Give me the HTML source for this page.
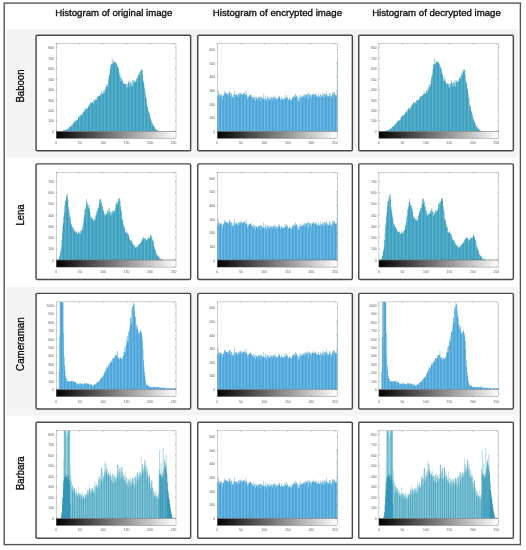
<!DOCTYPE html>
<html lang="en"><head><meta charset="utf-8"><title>Histograms of original, encrypted and decrypted images</title>
<style>html,body{margin:0;padding:0;background:#fff}svg{display:block}</style></head>
<body>
<svg width="526" height="550" viewBox="0 0 526 550">
<defs><linearGradient id="gr" x1="0" x2="1" y1="0" y2="0"><stop offset="0" stop-color="#000"/><stop offset="1" stop-color="#fff"/></linearGradient>
<pattern id="st" width="3.6" height="10" patternUnits="userSpaceOnUse"><rect x="0" y="0" width="1.1" height="10" fill="#b9e6dc" opacity="0.3"/><rect x="1.9" y="0" width="0.9" height="10" fill="#2f8fd0" opacity="0.22"/></pattern>
<pattern id="sb" width="3.3" height="10" patternUnits="userSpaceOnUse"><rect x="0" y="0" width="1.1" height="10" fill="#fff" opacity="0.2"/><rect x="1.8" y="0" width="0.8" height="10" fill="#1b86c8" opacity="0.25"/></pattern>
</defs>
<rect width="526" height="550" fill="#fff"/>
<rect x="6.2" y="29" width="512" height="128.7" fill="#f4f4f4"/>
<rect x="6.2" y="286.8" width="512" height="128.9" fill="#f4f4f4"/>
<rect x="4.2" y="3.1" width="516.2" height="541.5" fill="none" stroke="#555" stroke-width="1.4"/>
<text x="113.75" y="15.7" font-family="Liberation Sans, Arial, Helvetica, sans-serif" font-size="9.9" text-anchor="middle" fill="#0a0a0a" stroke="#0a0a0a" stroke-width="0.32" textLength="117.1" lengthAdjust="spacingAndGlyphs">Histogram of original image</text>
<text x="277.4" y="15.7" font-family="Liberation Sans, Arial, Helvetica, sans-serif" font-size="9.9" text-anchor="middle" fill="#0a0a0a" stroke="#0a0a0a" stroke-width="0.32" textLength="129.3" lengthAdjust="spacingAndGlyphs">Histogram of encrypted image</text>
<text x="436.5" y="15.7" font-family="Liberation Sans, Arial, Helvetica, sans-serif" font-size="9.9" text-anchor="middle" fill="#0a0a0a" stroke="#0a0a0a" stroke-width="0.32" textLength="128.7" lengthAdjust="spacingAndGlyphs">Histogram of decrypted image</text>
<text transform="translate(24.3 86.0) rotate(-90)" font-family="Liberation Sans, Arial, Helvetica, sans-serif" font-size="10.2" text-anchor="middle" fill="#0a0a0a" stroke="#0a0a0a" stroke-width="0.32" textLength="33.1" lengthAdjust="spacingAndGlyphs">Baboon</text>
<text transform="translate(24.3 215.1) rotate(-90)" font-family="Liberation Sans, Arial, Helvetica, sans-serif" font-size="10.2" text-anchor="middle" fill="#0a0a0a" stroke="#0a0a0a" stroke-width="0.32" textLength="21.0" lengthAdjust="spacingAndGlyphs">Lena</text>
<text transform="translate(24.3 344.1) rotate(-90)" font-family="Liberation Sans, Arial, Helvetica, sans-serif" font-size="10.2" text-anchor="middle" fill="#0a0a0a" stroke="#0a0a0a" stroke-width="0.32" textLength="53.6" lengthAdjust="spacingAndGlyphs">Cameraman</text>
<text transform="translate(24.3 473.2) rotate(-90)" font-family="Liberation Sans, Arial, Helvetica, sans-serif" font-size="10.2" text-anchor="middle" fill="#0a0a0a" stroke="#0a0a0a" stroke-width="0.32" textLength="33.6" lengthAdjust="spacingAndGlyphs">Barbara</text>
<rect x="36.05" y="35.15" width="154.6" height="115.6" rx="1.1" fill="#fff" stroke="#484848" stroke-width="1.45"/>
<path d="M56.2 131.3V131.3H56.43V131.3H56.9V131.3H57.37V131.3H57.84V131.3H58.31V131.3H58.78V131.3H59.25V131.3H59.72V131.3H60.19V131.25H60.66V131.2H61.13V131.14H61.6V131.09H62.07V131.04H62.54V130.99H63.01V130.28H63.48V130.47H63.95V130.84H64.42V130.13H64.89V129.91H65.36V130.18H65.83V129.84H66.3V130.32H66.77V128.45H67.24V128.9H67.71V129.35H68.18V128.75H68.65V128.01H69.12V126.82H69.59V127.05H70.06V126.53H70.53V126.38H71V126.52H71.47V124.67H71.94V124.94H72.41V124.36H72.88V123.48H73.35V123.2H73.82V122.38H74.29V121.92H74.76V120.71H75.23V121.34H75.7V119.88H76.17V120.85H76.64V120.36H77.11V120.08H77.58V119.17H78.05V116.97H78.52V117.03H78.99V117.31H79.46V115.46H79.93V115.15H80.39V115.76H80.86V115.21H81.33V114.52H81.8V114.29H82.27V113.39H82.74V112.01H83.21V112.33H83.68V110.76H84.15V109.84H84.62V111.87H85.09V110.04H85.56V107.63H86.03V108.55H86.5V108.58H86.97V108.76H87.44V108.2H87.91V106.26H88.38V106.89H88.85V104.71H89.32V104.72H89.79V104.08H90.26V102.81H90.73V102.29H91.2V103.32H91.67V102.73H92.14V102.15H92.61V101.96H93.08V103.92H93.55V100.17H94.02V100.27H94.49V99.81H94.96V100.89H95.43V98.89H95.9V100.12H96.37V99.54H96.84V96.97H97.31V96.47H97.78V96.85H98.25V96.16H98.72V95.44H99.19V95.51H99.66V96.12H100.13V94.96H100.6V93.94H101.07V91.34H101.54V93.5H102.01V93.67H102.48V93.28H102.95V94.3H103.42V90.98H103.89V90.44H104.35V92.68H104.82V88.68H105.29V89.45H105.76V86.23H106.23V86.99H106.7V84.06H107.17V86.69H107.64V84.2H108.11V80.69H108.58V77.42H109.05V75.28H109.52V74.13H109.99V68.94H110.46V65.44H110.93V64.25H111.4V63.98H111.87V58.51H112.34V63.62H112.81V63.46H113.28V60.62H113.75V61.87H114.22V62.47H114.69V61.09H115.16V62.14H115.63V62.96H116.1V62.67H116.57V64.05H117.04V65.97H117.51V66.79H117.98V68.28H118.45V68.27H118.92V72.6H119.39V75.54H119.86V73.96H120.33V78.19H120.8V81.16H121.27V76.97H121.74V80.65H122.21V79.59H122.68V81.38H123.15V83.02H123.62V84.1H124.09V82.9H124.56V83.83H125.03V84.36H125.5V83.96H125.97V87.16H126.44V83.75H126.91V87.48H127.38V84.16H127.85V83.04H128.31V81.69H128.78V80.41H129.25V86.84H129.72V83.4H130.19V82.19H130.66V82.26H131.13V86.01H131.6V83.38H132.07V79.96H132.54V86.46H133.01V81.7H133.48V80.37H133.95V82.3H134.42V79.95H134.89V82.54H135.36V81.25H135.83V81.22H136.3V78.14H136.77V78.32H137.24V75.59H137.71V78.71H138.18V75.85H138.65V73.09H139.12V72.55H139.59V75.36H140.06V70.64H140.53V71.31H141V69.02H141.47V70.13H141.94V69.43H142.41V74.36H142.88V80.22H143.35V82.19H143.82V83.48H144.29V88.04H144.76V89.84H145.23V93.5H145.7V97.8H146.17V98.36H146.64V104.4H147.11V106.99H147.58V105.94H148.05V111.18H148.52V111.3H148.99V112.86H149.46V114.57H149.93V116.75H150.4V118.86H150.87V120.33H151.34V121.42H151.81V122.45H152.27V123.34H152.74V124.98H153.21V125.79H153.68V126.12H154.15V126.7H154.62V128H155.09V129.07H155.56V129H156.03V129.59H156.5V129.61H156.97V130.23H157.44V130.74H157.91V130.59H158.38V131.3H158.85V131.09H159.32V131.3H159.79V131.3H160.26V131.3H160.73V131.3H161.2V131.3H161.67V131.3H162.14V131.3H162.61V131.3H163.08V131.3H163.55V131.3H164.02V131.3H164.49V131.3H164.96V131.3H165.43V131.3H165.9V131.3H166.37V131.3H166.84V131.3H167.31V131.3H167.78V131.3H168.25V131.3H168.72V131.3H169.19V131.3H169.66V131.3H170.13V131.3H170.6V131.3H171.07V131.3H171.54V131.3H172.01V131.3H172.48V131.3H172.95V131.3H173.42V131.3H173.89V131.3H174.36V131.3H174.83V131.3H175.3V131.3H175.77V131.3H176.23V131.3Z" fill="#3ea2c1"/>
<path d="M56.2 131.3V131.3H56.43V131.3H56.9V131.3H57.37V131.3H57.84V131.3H58.31V131.3H58.78V131.3H59.25V131.3H59.72V131.3H60.19V131.25H60.66V131.2H61.13V131.14H61.6V131.09H62.07V131.04H62.54V130.99H63.01V130.28H63.48V130.47H63.95V130.84H64.42V130.13H64.89V129.91H65.36V130.18H65.83V129.84H66.3V130.32H66.77V128.45H67.24V128.9H67.71V129.35H68.18V128.75H68.65V128.01H69.12V126.82H69.59V127.05H70.06V126.53H70.53V126.38H71V126.52H71.47V124.67H71.94V124.94H72.41V124.36H72.88V123.48H73.35V123.2H73.82V122.38H74.29V121.92H74.76V120.71H75.23V121.34H75.7V119.88H76.17V120.85H76.64V120.36H77.11V120.08H77.58V119.17H78.05V116.97H78.52V117.03H78.99V117.31H79.46V115.46H79.93V115.15H80.39V115.76H80.86V115.21H81.33V114.52H81.8V114.29H82.27V113.39H82.74V112.01H83.21V112.33H83.68V110.76H84.15V109.84H84.62V111.87H85.09V110.04H85.56V107.63H86.03V108.55H86.5V108.58H86.97V108.76H87.44V108.2H87.91V106.26H88.38V106.89H88.85V104.71H89.32V104.72H89.79V104.08H90.26V102.81H90.73V102.29H91.2V103.32H91.67V102.73H92.14V102.15H92.61V101.96H93.08V103.92H93.55V100.17H94.02V100.27H94.49V99.81H94.96V100.89H95.43V98.89H95.9V100.12H96.37V99.54H96.84V96.97H97.31V96.47H97.78V96.85H98.25V96.16H98.72V95.44H99.19V95.51H99.66V96.12H100.13V94.96H100.6V93.94H101.07V91.34H101.54V93.5H102.01V93.67H102.48V93.28H102.95V94.3H103.42V90.98H103.89V90.44H104.35V92.68H104.82V88.68H105.29V89.45H105.76V86.23H106.23V86.99H106.7V84.06H107.17V86.69H107.64V84.2H108.11V80.69H108.58V77.42H109.05V75.28H109.52V74.13H109.99V68.94H110.46V65.44H110.93V64.25H111.4V63.98H111.87V58.51H112.34V63.62H112.81V63.46H113.28V60.62H113.75V61.87H114.22V62.47H114.69V61.09H115.16V62.14H115.63V62.96H116.1V62.67H116.57V64.05H117.04V65.97H117.51V66.79H117.98V68.28H118.45V68.27H118.92V72.6H119.39V75.54H119.86V73.96H120.33V78.19H120.8V81.16H121.27V76.97H121.74V80.65H122.21V79.59H122.68V81.38H123.15V83.02H123.62V84.1H124.09V82.9H124.56V83.83H125.03V84.36H125.5V83.96H125.97V87.16H126.44V83.75H126.91V87.48H127.38V84.16H127.85V83.04H128.31V81.69H128.78V80.41H129.25V86.84H129.72V83.4H130.19V82.19H130.66V82.26H131.13V86.01H131.6V83.38H132.07V79.96H132.54V86.46H133.01V81.7H133.48V80.37H133.95V82.3H134.42V79.95H134.89V82.54H135.36V81.25H135.83V81.22H136.3V78.14H136.77V78.32H137.24V75.59H137.71V78.71H138.18V75.85H138.65V73.09H139.12V72.55H139.59V75.36H140.06V70.64H140.53V71.31H141V69.02H141.47V70.13H141.94V69.43H142.41V74.36H142.88V80.22H143.35V82.19H143.82V83.48H144.29V88.04H144.76V89.84H145.23V93.5H145.7V97.8H146.17V98.36H146.64V104.4H147.11V106.99H147.58V105.94H148.05V111.18H148.52V111.3H148.99V112.86H149.46V114.57H149.93V116.75H150.4V118.86H150.87V120.33H151.34V121.42H151.81V122.45H152.27V123.34H152.74V124.98H153.21V125.79H153.68V126.12H154.15V126.7H154.62V128H155.09V129.07H155.56V129H156.03V129.59H156.5V129.61H156.97V130.23H157.44V130.74H157.91V130.59H158.38V131.3H158.85V131.09H159.32V131.3H159.79V131.3H160.26V131.3H160.73V131.3H161.2V131.3H161.67V131.3H162.14V131.3H162.61V131.3H163.08V131.3H163.55V131.3H164.02V131.3H164.49V131.3H164.96V131.3H165.43V131.3H165.9V131.3H166.37V131.3H166.84V131.3H167.31V131.3H167.78V131.3H168.25V131.3H168.72V131.3H169.19V131.3H169.66V131.3H170.13V131.3H170.6V131.3H171.07V131.3H171.54V131.3H172.01V131.3H172.48V131.3H172.95V131.3H173.42V131.3H173.89V131.3H174.36V131.3H174.83V131.3H175.3V131.3H175.77V131.3H176.23V131.3Z" fill="url(#st)"/>
<rect x="56.2" y="131.3" width="119.8" height="7.1" fill="url(#gr)" stroke="#666" stroke-width="0.35"/>
<rect x="56.2" y="43.7" width="119.8" height="87.6" fill="none" stroke="#808080" stroke-width="0.38"/>
<text x="54" y="132.85" font-family="Liberation Sans, Arial, Helvetica, sans-serif" font-size="3.4" text-anchor="end" fill="#5a5a5a">0</text>
<text x="54" y="122.41" font-family="Liberation Sans, Arial, Helvetica, sans-serif" font-size="3.4" text-anchor="end" fill="#5a5a5a">100</text>
<text x="54" y="111.98" font-family="Liberation Sans, Arial, Helvetica, sans-serif" font-size="3.4" text-anchor="end" fill="#5a5a5a">200</text>
<text x="54" y="101.54" font-family="Liberation Sans, Arial, Helvetica, sans-serif" font-size="3.4" text-anchor="end" fill="#5a5a5a">300</text>
<text x="54" y="91.1" font-family="Liberation Sans, Arial, Helvetica, sans-serif" font-size="3.4" text-anchor="end" fill="#5a5a5a">400</text>
<text x="54" y="80.66" font-family="Liberation Sans, Arial, Helvetica, sans-serif" font-size="3.4" text-anchor="end" fill="#5a5a5a">500</text>
<text x="54" y="70.23" font-family="Liberation Sans, Arial, Helvetica, sans-serif" font-size="3.4" text-anchor="end" fill="#5a5a5a">600</text>
<text x="54" y="59.79" font-family="Liberation Sans, Arial, Helvetica, sans-serif" font-size="3.4" text-anchor="end" fill="#5a5a5a">700</text>
<text x="54" y="49.35" font-family="Liberation Sans, Arial, Helvetica, sans-serif" font-size="3.4" text-anchor="end" fill="#5a5a5a">800</text>
<text x="56.2" y="144.3" font-family="Liberation Sans, Arial, Helvetica, sans-serif" font-size="3.4" text-anchor="middle" fill="#5a5a5a">0</text>
<text x="79.69" y="144.3" font-family="Liberation Sans, Arial, Helvetica, sans-serif" font-size="3.4" text-anchor="middle" fill="#5a5a5a">50</text>
<text x="103.18" y="144.3" font-family="Liberation Sans, Arial, Helvetica, sans-serif" font-size="3.4" text-anchor="middle" fill="#5a5a5a">100</text>
<text x="126.67" y="144.3" font-family="Liberation Sans, Arial, Helvetica, sans-serif" font-size="3.4" text-anchor="middle" fill="#5a5a5a">150</text>
<text x="150.16" y="144.3" font-family="Liberation Sans, Arial, Helvetica, sans-serif" font-size="3.4" text-anchor="middle" fill="#5a5a5a">200</text>
<text x="173.65" y="144.3" font-family="Liberation Sans, Arial, Helvetica, sans-serif" font-size="3.4" text-anchor="middle" fill="#5a5a5a">250</text>
<path d="M56.2 131.3h1.2M176 131.3h-1.2M56.2 120.86h1.2M176 120.86h-1.2M56.2 110.43h1.2M176 110.43h-1.2M56.2 99.99h1.2M176 99.99h-1.2M56.2 89.55h1.2M176 89.55h-1.2M56.2 79.11h1.2M176 79.11h-1.2M56.2 68.68h1.2M176 68.68h-1.2M56.2 58.24h1.2M176 58.24h-1.2M56.2 47.8h1.2M176 47.8h-1.2M56.2 43.7v1.2M56.2 131.3v-1.2M56.2 138.4v-1.2M79.69 43.7v1.2M79.69 131.3v-1.2M79.69 138.4v-1.2M103.18 43.7v1.2M103.18 131.3v-1.2M103.18 138.4v-1.2M126.67 43.7v1.2M126.67 131.3v-1.2M126.67 138.4v-1.2M150.16 43.7v1.2M150.16 131.3v-1.2M150.16 138.4v-1.2M173.65 43.7v1.2M173.65 131.3v-1.2M173.65 138.4v-1.2" stroke="#666" stroke-width="0.35" fill="none"/>
<rect x="197.75" y="35.15" width="154.6" height="115.6" rx="1.1" fill="#fff" stroke="#484848" stroke-width="1.45"/>
<path d="M217.3 131.3V94.72H217.53V96.02H218V90.87H218.47V94.81H218.94V93.44H219.41V97.18H219.88V95.12H220.35V94.69H220.82V94.34H221.29V94.93H221.76V96.03H222.23V99.67H222.7V95.72H223.17V95.8H223.64V94.6H224.11V93.17H224.58V91.03H225.05V93.03H225.52V92.52H225.99V93.64H226.46V93.68H226.93V93.5H227.4V94.49H227.87V95.05H228.34V93.86H228.81V91.46H229.28V92.82H229.75V91.22H230.22V96.76H230.69V93.88H231.16V93.61H231.63V93.54H232.1V96.87H232.57V97.12H233.04V97.78H233.51V94.77H233.98V90.01H234.45V94.08H234.92V96.22H235.39V93.92H235.86V94.92H236.33V94.03H236.8V95.22H237.27V97H237.74V94.93H238.21V93.25H238.68V94.3H239.15V93.09H239.62V96.3H240.09V92.63H240.56V94.18H241.03V93.94H241.49V92.63H241.96V94.64H242.43V94.61H242.9V93.53H243.37V93.33H243.84V93.48H244.31V92.59H244.78V93.79H245.25V95.39H245.72V90.45H246.19V95.37H246.66V94.21H247.13V96.89H247.6V99.2H248.07V97.13H248.54V95.75H249.01V95.29H249.48V95.98H249.95V95.07H250.42V94.33H250.89V95H251.36V96.87H251.83V96.74H252.3V97.3H252.77V98.6H253.24V95.4H253.71V99.46H254.18V97.48H254.65V96.92H255.12V100.68H255.59V96.54H256.06V98.09H256.53V97.58H257V98.28H257.47V99.84H257.94V97.41H258.41V97.55H258.88V96.77H259.35V97.46H259.82V100.99H260.29V96.32H260.76V97.13H261.23V97.41H261.7V97.59H262.17V99.15H262.64V97.97H263.11V99.08H263.58V93.58H264.05V98.46H264.52V99.78H264.99V99.06H265.45V95.52H265.92V98.66H266.39V101.53H266.86V96.19H267.33V97.42H267.8V98.48H268.27V97.07H268.74V99.48H269.21V99.91H269.68V96.43H270.15V98.85H270.62V97.29H271.09V98.37H271.56V97.19H272.03V97.56H272.5V100.6H272.97V96.7H273.44V98.27H273.91V96.76H274.38V97.77H274.85V95.69H275.32V98.43H275.79V100.53H276.26V98.74H276.73V97.27H277.2V98.49H277.67V98.76H278.14V95.42H278.61V98.62H279.08V95.95H279.55V97.36H280.02V99.91H280.49V98.85H280.96V97.64H281.43V97.28H281.9V98.81H282.37V99.8H282.84V99.15H283.31V98.68H283.78V99.28H284.25V98.45H284.72V95.07H285.19V97.05H285.66V98.73H286.13V97.84H286.6V95.22H287.07V96.69H287.54V97.87H288.01V99.41H288.48V100.21H288.95V98.1H289.41V98.33H289.88V99.92H290.35V100.03H290.82V97.77H291.29V100.51H291.76V99.71H292.23V97.76H292.7V97.05H293.17V96.96H293.64V96.13H294.11V95.04H294.58V96.52H295.05V97.6H295.52V93.84H295.99V95.32H296.46V96.25H296.93V98.88H297.4V96.63H297.87V101.15H298.34V97.87H298.81V101.26H299.28V98.25H299.75V95.54H300.22V97.7H300.69V95H301.16V97.22H301.63V96.56H302.1V97.38H302.57V96.12H303.04V96.54H303.51V94.78H303.98V94.08H304.45V95.83H304.92V97.91H305.39V94.52H305.86V94.19H306.33V94.83H306.8V95.42H307.27V94.32H307.74V93.13H308.21V99.53H308.68V92.83H309.15V94.29H309.62V94.83H310.09V96.15H310.56V95H311.03V94.42H311.5V97.43H311.97V94.28H312.44V95.21H312.91V92.48H313.37V93.96H313.84V95.1H314.31V95.1H314.78V93.68H315.25V94.83H315.72V93.57H316.19V95.74H316.66V96.67H317.13V95.23H317.6V96.92H318.07V96.08H318.54V93.63H319.01V97.24H319.48V96.35H319.95V93.42H320.42V95.23H320.89V94.94H321.36V97.07H321.83V96.81H322.3V95.01H322.77V92.59H323.24V94.5H323.71V97.88H324.18V93.97H324.65V93.15H325.12V93.88H325.59V96.59H326.06V94.83H326.53V91.02H327V96.1H327.47V94.48H327.94V96.02H328.41V96.98H328.88V95.45H329.35V93.15H329.82V92.99H330.29V96.12H330.76V95.61H331.23V96.09H331.7V98.21H332.17V93.85H332.64V91.98H333.11V92.05H333.58V95.17H334.05V92.38H334.52V92.97H334.99V95.19H335.46V94.63H335.93V95.73H336.4V94.54H336.87V91.21H337.33V131.3Z" fill="#51a9dc"/>
<path d="M217.3 131.3V94.72H217.53V96.02H218V90.87H218.47V94.81H218.94V93.44H219.41V97.18H219.88V95.12H220.35V94.69H220.82V94.34H221.29V94.93H221.76V96.03H222.23V99.67H222.7V95.72H223.17V95.8H223.64V94.6H224.11V93.17H224.58V91.03H225.05V93.03H225.52V92.52H225.99V93.64H226.46V93.68H226.93V93.5H227.4V94.49H227.87V95.05H228.34V93.86H228.81V91.46H229.28V92.82H229.75V91.22H230.22V96.76H230.69V93.88H231.16V93.61H231.63V93.54H232.1V96.87H232.57V97.12H233.04V97.78H233.51V94.77H233.98V90.01H234.45V94.08H234.92V96.22H235.39V93.92H235.86V94.92H236.33V94.03H236.8V95.22H237.27V97H237.74V94.93H238.21V93.25H238.68V94.3H239.15V93.09H239.62V96.3H240.09V92.63H240.56V94.18H241.03V93.94H241.49V92.63H241.96V94.64H242.43V94.61H242.9V93.53H243.37V93.33H243.84V93.48H244.31V92.59H244.78V93.79H245.25V95.39H245.72V90.45H246.19V95.37H246.66V94.21H247.13V96.89H247.6V99.2H248.07V97.13H248.54V95.75H249.01V95.29H249.48V95.98H249.95V95.07H250.42V94.33H250.89V95H251.36V96.87H251.83V96.74H252.3V97.3H252.77V98.6H253.24V95.4H253.71V99.46H254.18V97.48H254.65V96.92H255.12V100.68H255.59V96.54H256.06V98.09H256.53V97.58H257V98.28H257.47V99.84H257.94V97.41H258.41V97.55H258.88V96.77H259.35V97.46H259.82V100.99H260.29V96.32H260.76V97.13H261.23V97.41H261.7V97.59H262.17V99.15H262.64V97.97H263.11V99.08H263.58V93.58H264.05V98.46H264.52V99.78H264.99V99.06H265.45V95.52H265.92V98.66H266.39V101.53H266.86V96.19H267.33V97.42H267.8V98.48H268.27V97.07H268.74V99.48H269.21V99.91H269.68V96.43H270.15V98.85H270.62V97.29H271.09V98.37H271.56V97.19H272.03V97.56H272.5V100.6H272.97V96.7H273.44V98.27H273.91V96.76H274.38V97.77H274.85V95.69H275.32V98.43H275.79V100.53H276.26V98.74H276.73V97.27H277.2V98.49H277.67V98.76H278.14V95.42H278.61V98.62H279.08V95.95H279.55V97.36H280.02V99.91H280.49V98.85H280.96V97.64H281.43V97.28H281.9V98.81H282.37V99.8H282.84V99.15H283.31V98.68H283.78V99.28H284.25V98.45H284.72V95.07H285.19V97.05H285.66V98.73H286.13V97.84H286.6V95.22H287.07V96.69H287.54V97.87H288.01V99.41H288.48V100.21H288.95V98.1H289.41V98.33H289.88V99.92H290.35V100.03H290.82V97.77H291.29V100.51H291.76V99.71H292.23V97.76H292.7V97.05H293.17V96.96H293.64V96.13H294.11V95.04H294.58V96.52H295.05V97.6H295.52V93.84H295.99V95.32H296.46V96.25H296.93V98.88H297.4V96.63H297.87V101.15H298.34V97.87H298.81V101.26H299.28V98.25H299.75V95.54H300.22V97.7H300.69V95H301.16V97.22H301.63V96.56H302.1V97.38H302.57V96.12H303.04V96.54H303.51V94.78H303.98V94.08H304.45V95.83H304.92V97.91H305.39V94.52H305.86V94.19H306.33V94.83H306.8V95.42H307.27V94.32H307.74V93.13H308.21V99.53H308.68V92.83H309.15V94.29H309.62V94.83H310.09V96.15H310.56V95H311.03V94.42H311.5V97.43H311.97V94.28H312.44V95.21H312.91V92.48H313.37V93.96H313.84V95.1H314.31V95.1H314.78V93.68H315.25V94.83H315.72V93.57H316.19V95.74H316.66V96.67H317.13V95.23H317.6V96.92H318.07V96.08H318.54V93.63H319.01V97.24H319.48V96.35H319.95V93.42H320.42V95.23H320.89V94.94H321.36V97.07H321.83V96.81H322.3V95.01H322.77V92.59H323.24V94.5H323.71V97.88H324.18V93.97H324.65V93.15H325.12V93.88H325.59V96.59H326.06V94.83H326.53V91.02H327V96.1H327.47V94.48H327.94V96.02H328.41V96.98H328.88V95.45H329.35V93.15H329.82V92.99H330.29V96.12H330.76V95.61H331.23V96.09H331.7V98.21H332.17V93.85H332.64V91.98H333.11V92.05H333.58V95.17H334.05V92.38H334.52V92.97H334.99V95.19H335.46V94.63H335.93V95.73H336.4V94.54H336.87V91.21H337.33V131.3Z" fill="url(#sb)"/>
<rect x="336.75" y="62.45" width="0.7" height="68.85" fill="#a9d4ef"/>
<rect x="217.3" y="131.3" width="120.1" height="7.1" fill="url(#gr)" stroke="#666" stroke-width="0.35"/>
<rect x="217.3" y="43.7" width="120.1" height="87.6" fill="none" stroke="#808080" stroke-width="0.38"/>
<text x="215.1" y="132.85" font-family="Liberation Sans, Arial, Helvetica, sans-serif" font-size="3.4" text-anchor="end" fill="#5a5a5a">0</text>
<text x="215.1" y="119.22" font-family="Liberation Sans, Arial, Helvetica, sans-serif" font-size="3.4" text-anchor="end" fill="#5a5a5a">100</text>
<text x="215.1" y="105.58" font-family="Liberation Sans, Arial, Helvetica, sans-serif" font-size="3.4" text-anchor="end" fill="#5a5a5a">200</text>
<text x="215.1" y="91.95" font-family="Liberation Sans, Arial, Helvetica, sans-serif" font-size="3.4" text-anchor="end" fill="#5a5a5a">300</text>
<text x="215.1" y="78.32" font-family="Liberation Sans, Arial, Helvetica, sans-serif" font-size="3.4" text-anchor="end" fill="#5a5a5a">400</text>
<text x="215.1" y="64.68" font-family="Liberation Sans, Arial, Helvetica, sans-serif" font-size="3.4" text-anchor="end" fill="#5a5a5a">500</text>
<text x="215.1" y="51.05" font-family="Liberation Sans, Arial, Helvetica, sans-serif" font-size="3.4" text-anchor="end" fill="#5a5a5a">600</text>
<text x="217.3" y="144.3" font-family="Liberation Sans, Arial, Helvetica, sans-serif" font-size="3.4" text-anchor="middle" fill="#5a5a5a">0</text>
<text x="240.79" y="144.3" font-family="Liberation Sans, Arial, Helvetica, sans-serif" font-size="3.4" text-anchor="middle" fill="#5a5a5a">50</text>
<text x="264.28" y="144.3" font-family="Liberation Sans, Arial, Helvetica, sans-serif" font-size="3.4" text-anchor="middle" fill="#5a5a5a">100</text>
<text x="287.77" y="144.3" font-family="Liberation Sans, Arial, Helvetica, sans-serif" font-size="3.4" text-anchor="middle" fill="#5a5a5a">150</text>
<text x="311.26" y="144.3" font-family="Liberation Sans, Arial, Helvetica, sans-serif" font-size="3.4" text-anchor="middle" fill="#5a5a5a">200</text>
<text x="334.75" y="144.3" font-family="Liberation Sans, Arial, Helvetica, sans-serif" font-size="3.4" text-anchor="middle" fill="#5a5a5a">250</text>
<path d="M217.3 131.3h1.2M337.4 131.3h-1.2M217.3 117.67h1.2M337.4 117.67h-1.2M217.3 104.03h1.2M337.4 104.03h-1.2M217.3 90.4h1.2M337.4 90.4h-1.2M217.3 76.77h1.2M337.4 76.77h-1.2M217.3 63.13h1.2M337.4 63.13h-1.2M217.3 49.5h1.2M337.4 49.5h-1.2M217.3 43.7v1.2M217.3 131.3v-1.2M217.3 138.4v-1.2M240.79 43.7v1.2M240.79 131.3v-1.2M240.79 138.4v-1.2M264.28 43.7v1.2M264.28 131.3v-1.2M264.28 138.4v-1.2M287.77 43.7v1.2M287.77 131.3v-1.2M287.77 138.4v-1.2M311.26 43.7v1.2M311.26 131.3v-1.2M311.26 138.4v-1.2M334.75 43.7v1.2M334.75 131.3v-1.2M334.75 138.4v-1.2" stroke="#666" stroke-width="0.35" fill="none"/>
<rect x="358.75" y="35.15" width="154.6" height="115.6" rx="1.1" fill="#fff" stroke="#484848" stroke-width="1.45"/>
<path d="M378.9 131.3V131.3H379.13V131.3H379.6V131.3H380.07V131.3H380.54V131.3H381.01V131.3H381.48V131.3H381.95V131.3H382.42V131.3H382.89V131.25H383.36V131.2H383.83V131.14H384.3V131.09H384.77V131.04H385.24V130.99H385.71V130.28H386.18V130.47H386.65V130.84H387.12V130.13H387.59V129.91H388.06V130.18H388.53V129.84H389V130.32H389.47V128.45H389.94V128.9H390.41V129.35H390.88V128.75H391.35V128.01H391.82V126.82H392.29V127.05H392.76V126.53H393.23V126.38H393.7V126.52H394.17V124.67H394.64V124.94H395.11V124.36H395.58V123.48H396.05V123.2H396.52V122.38H396.99V121.92H397.46V120.71H397.93V121.34H398.4V119.88H398.87V120.85H399.34V120.36H399.81V120.08H400.28V119.17H400.75V116.97H401.22V117.03H401.69V117.31H402.16V115.46H402.63V115.15H403.09V115.76H403.56V115.21H404.03V114.52H404.5V114.29H404.97V113.39H405.44V112.01H405.91V112.33H406.38V110.76H406.85V109.84H407.32V111.87H407.79V110.04H408.26V107.63H408.73V108.55H409.2V108.58H409.67V108.76H410.14V108.2H410.61V106.26H411.08V106.89H411.55V104.71H412.02V104.72H412.49V104.08H412.96V102.81H413.43V102.29H413.9V103.32H414.37V102.73H414.84V102.15H415.31V101.96H415.78V103.92H416.25V100.17H416.72V100.27H417.19V99.81H417.66V100.89H418.13V98.89H418.6V100.12H419.07V99.54H419.54V96.97H420.01V96.47H420.48V96.85H420.95V96.16H421.42V95.44H421.89V95.51H422.36V96.12H422.83V94.96H423.3V93.94H423.77V91.34H424.24V93.5H424.71V93.67H425.18V93.28H425.65V94.3H426.12V90.98H426.59V90.44H427.05V92.68H427.52V88.68H427.99V89.45H428.46V86.23H428.93V86.99H429.4V84.06H429.87V86.69H430.34V84.2H430.81V80.69H431.28V77.42H431.75V75.28H432.22V74.13H432.69V68.94H433.16V65.44H433.63V64.25H434.1V63.98H434.57V58.51H435.04V63.62H435.51V63.46H435.98V60.62H436.45V61.87H436.92V62.47H437.39V61.09H437.86V62.14H438.33V62.96H438.8V62.67H439.27V64.05H439.74V65.97H440.21V66.79H440.68V68.28H441.15V68.27H441.62V72.6H442.09V75.54H442.56V73.96H443.03V78.19H443.5V81.16H443.97V76.97H444.44V80.65H444.91V79.59H445.38V81.38H445.85V83.02H446.32V84.1H446.79V82.9H447.26V83.83H447.73V84.36H448.2V83.96H448.67V87.16H449.14V83.75H449.61V87.48H450.08V84.16H450.55V83.04H451.01V81.69H451.48V80.41H451.95V86.84H452.42V83.4H452.89V82.19H453.36V82.26H453.83V86.01H454.3V83.38H454.77V79.96H455.24V86.46H455.71V81.7H456.18V80.37H456.65V82.3H457.12V79.95H457.59V82.54H458.06V81.25H458.53V81.22H459V78.14H459.47V78.32H459.94V75.59H460.41V78.71H460.88V75.85H461.35V73.09H461.82V72.55H462.29V75.36H462.76V70.64H463.23V71.31H463.7V69.02H464.17V70.13H464.64V69.43H465.11V74.36H465.58V80.22H466.05V82.19H466.52V83.48H466.99V88.04H467.46V89.84H467.93V93.5H468.4V97.8H468.87V98.36H469.34V104.4H469.81V106.99H470.28V105.94H470.75V111.18H471.22V111.3H471.69V112.86H472.16V114.57H472.63V116.75H473.1V118.86H473.57V120.33H474.04V121.42H474.51V122.45H474.97V123.34H475.44V124.98H475.91V125.79H476.38V126.12H476.85V126.7H477.32V128H477.79V129.07H478.26V129H478.73V129.59H479.2V129.61H479.67V130.23H480.14V130.74H480.61V130.59H481.08V131.3H481.55V131.09H482.02V131.3H482.49V131.3H482.96V131.3H483.43V131.3H483.9V131.3H484.37V131.3H484.84V131.3H485.31V131.3H485.78V131.3H486.25V131.3H486.72V131.3H487.19V131.3H487.66V131.3H488.13V131.3H488.6V131.3H489.07V131.3H489.54V131.3H490.01V131.3H490.48V131.3H490.95V131.3H491.42V131.3H491.89V131.3H492.36V131.3H492.83V131.3H493.3V131.3H493.77V131.3H494.24V131.3H494.71V131.3H495.18V131.3H495.65V131.3H496.12V131.3H496.59V131.3H497.06V131.3H497.53V131.3H498V131.3H498.47V131.3H498.93V131.3Z" fill="#3ea2c1"/>
<path d="M378.9 131.3V131.3H379.13V131.3H379.6V131.3H380.07V131.3H380.54V131.3H381.01V131.3H381.48V131.3H381.95V131.3H382.42V131.3H382.89V131.25H383.36V131.2H383.83V131.14H384.3V131.09H384.77V131.04H385.24V130.99H385.71V130.28H386.18V130.47H386.65V130.84H387.12V130.13H387.59V129.91H388.06V130.18H388.53V129.84H389V130.32H389.47V128.45H389.94V128.9H390.41V129.35H390.88V128.75H391.35V128.01H391.82V126.82H392.29V127.05H392.76V126.53H393.23V126.38H393.7V126.52H394.17V124.67H394.64V124.94H395.11V124.36H395.58V123.48H396.05V123.2H396.52V122.38H396.99V121.92H397.46V120.71H397.93V121.34H398.4V119.88H398.87V120.85H399.34V120.36H399.81V120.08H400.28V119.17H400.75V116.97H401.22V117.03H401.69V117.31H402.16V115.46H402.63V115.15H403.09V115.76H403.56V115.21H404.03V114.52H404.5V114.29H404.97V113.39H405.44V112.01H405.91V112.33H406.38V110.76H406.85V109.84H407.32V111.87H407.79V110.04H408.26V107.63H408.73V108.55H409.2V108.58H409.67V108.76H410.14V108.2H410.61V106.26H411.08V106.89H411.55V104.71H412.02V104.72H412.49V104.08H412.96V102.81H413.43V102.29H413.9V103.32H414.37V102.73H414.84V102.15H415.31V101.96H415.78V103.92H416.25V100.17H416.72V100.27H417.19V99.81H417.66V100.89H418.13V98.89H418.6V100.12H419.07V99.54H419.54V96.97H420.01V96.47H420.48V96.85H420.95V96.16H421.42V95.44H421.89V95.51H422.36V96.12H422.83V94.96H423.3V93.94H423.77V91.34H424.24V93.5H424.71V93.67H425.18V93.28H425.65V94.3H426.12V90.98H426.59V90.44H427.05V92.68H427.52V88.68H427.99V89.45H428.46V86.23H428.93V86.99H429.4V84.06H429.87V86.69H430.34V84.2H430.81V80.69H431.28V77.42H431.75V75.28H432.22V74.13H432.69V68.94H433.16V65.44H433.63V64.25H434.1V63.98H434.57V58.51H435.04V63.62H435.51V63.46H435.98V60.62H436.45V61.87H436.92V62.47H437.39V61.09H437.86V62.14H438.33V62.96H438.8V62.67H439.27V64.05H439.74V65.97H440.21V66.79H440.68V68.28H441.15V68.27H441.62V72.6H442.09V75.54H442.56V73.96H443.03V78.19H443.5V81.16H443.97V76.97H444.44V80.65H444.91V79.59H445.38V81.38H445.85V83.02H446.32V84.1H446.79V82.9H447.26V83.83H447.73V84.36H448.2V83.96H448.67V87.16H449.14V83.75H449.61V87.48H450.08V84.16H450.55V83.04H451.01V81.69H451.48V80.41H451.95V86.84H452.42V83.4H452.89V82.19H453.36V82.26H453.83V86.01H454.3V83.38H454.77V79.96H455.24V86.46H455.71V81.7H456.18V80.37H456.65V82.3H457.12V79.95H457.59V82.54H458.06V81.25H458.53V81.22H459V78.14H459.47V78.32H459.94V75.59H460.41V78.71H460.88V75.85H461.35V73.09H461.82V72.55H462.29V75.36H462.76V70.64H463.23V71.31H463.7V69.02H464.17V70.13H464.64V69.43H465.11V74.36H465.58V80.22H466.05V82.19H466.52V83.48H466.99V88.04H467.46V89.84H467.93V93.5H468.4V97.8H468.87V98.36H469.34V104.4H469.81V106.99H470.28V105.94H470.75V111.18H471.22V111.3H471.69V112.86H472.16V114.57H472.63V116.75H473.1V118.86H473.57V120.33H474.04V121.42H474.51V122.45H474.97V123.34H475.44V124.98H475.91V125.79H476.38V126.12H476.85V126.7H477.32V128H477.79V129.07H478.26V129H478.73V129.59H479.2V129.61H479.67V130.23H480.14V130.74H480.61V130.59H481.08V131.3H481.55V131.09H482.02V131.3H482.49V131.3H482.96V131.3H483.43V131.3H483.9V131.3H484.37V131.3H484.84V131.3H485.31V131.3H485.78V131.3H486.25V131.3H486.72V131.3H487.19V131.3H487.66V131.3H488.13V131.3H488.6V131.3H489.07V131.3H489.54V131.3H490.01V131.3H490.48V131.3H490.95V131.3H491.42V131.3H491.89V131.3H492.36V131.3H492.83V131.3H493.3V131.3H493.77V131.3H494.24V131.3H494.71V131.3H495.18V131.3H495.65V131.3H496.12V131.3H496.59V131.3H497.06V131.3H497.53V131.3H498V131.3H498.47V131.3H498.93V131.3Z" fill="url(#st)"/>
<rect x="378.9" y="131.3" width="119.8" height="7.1" fill="url(#gr)" stroke="#666" stroke-width="0.35"/>
<rect x="378.9" y="43.7" width="119.8" height="87.6" fill="none" stroke="#808080" stroke-width="0.38"/>
<text x="376.7" y="132.85" font-family="Liberation Sans, Arial, Helvetica, sans-serif" font-size="3.4" text-anchor="end" fill="#5a5a5a">0</text>
<text x="376.7" y="122.41" font-family="Liberation Sans, Arial, Helvetica, sans-serif" font-size="3.4" text-anchor="end" fill="#5a5a5a">100</text>
<text x="376.7" y="111.98" font-family="Liberation Sans, Arial, Helvetica, sans-serif" font-size="3.4" text-anchor="end" fill="#5a5a5a">200</text>
<text x="376.7" y="101.54" font-family="Liberation Sans, Arial, Helvetica, sans-serif" font-size="3.4" text-anchor="end" fill="#5a5a5a">300</text>
<text x="376.7" y="91.1" font-family="Liberation Sans, Arial, Helvetica, sans-serif" font-size="3.4" text-anchor="end" fill="#5a5a5a">400</text>
<text x="376.7" y="80.66" font-family="Liberation Sans, Arial, Helvetica, sans-serif" font-size="3.4" text-anchor="end" fill="#5a5a5a">500</text>
<text x="376.7" y="70.23" font-family="Liberation Sans, Arial, Helvetica, sans-serif" font-size="3.4" text-anchor="end" fill="#5a5a5a">600</text>
<text x="376.7" y="59.79" font-family="Liberation Sans, Arial, Helvetica, sans-serif" font-size="3.4" text-anchor="end" fill="#5a5a5a">700</text>
<text x="376.7" y="49.35" font-family="Liberation Sans, Arial, Helvetica, sans-serif" font-size="3.4" text-anchor="end" fill="#5a5a5a">800</text>
<text x="378.9" y="144.3" font-family="Liberation Sans, Arial, Helvetica, sans-serif" font-size="3.4" text-anchor="middle" fill="#5a5a5a">0</text>
<text x="402.39" y="144.3" font-family="Liberation Sans, Arial, Helvetica, sans-serif" font-size="3.4" text-anchor="middle" fill="#5a5a5a">50</text>
<text x="425.88" y="144.3" font-family="Liberation Sans, Arial, Helvetica, sans-serif" font-size="3.4" text-anchor="middle" fill="#5a5a5a">100</text>
<text x="449.37" y="144.3" font-family="Liberation Sans, Arial, Helvetica, sans-serif" font-size="3.4" text-anchor="middle" fill="#5a5a5a">150</text>
<text x="472.86" y="144.3" font-family="Liberation Sans, Arial, Helvetica, sans-serif" font-size="3.4" text-anchor="middle" fill="#5a5a5a">200</text>
<text x="496.35" y="144.3" font-family="Liberation Sans, Arial, Helvetica, sans-serif" font-size="3.4" text-anchor="middle" fill="#5a5a5a">250</text>
<path d="M378.9 131.3h1.2M498.7 131.3h-1.2M378.9 120.86h1.2M498.7 120.86h-1.2M378.9 110.43h1.2M498.7 110.43h-1.2M378.9 99.99h1.2M498.7 99.99h-1.2M378.9 89.55h1.2M498.7 89.55h-1.2M378.9 79.11h1.2M498.7 79.11h-1.2M378.9 68.68h1.2M498.7 68.68h-1.2M378.9 58.24h1.2M498.7 58.24h-1.2M378.9 47.8h1.2M498.7 47.8h-1.2M378.9 43.7v1.2M378.9 131.3v-1.2M378.9 138.4v-1.2M402.39 43.7v1.2M402.39 131.3v-1.2M402.39 138.4v-1.2M425.88 43.7v1.2M425.88 131.3v-1.2M425.88 138.4v-1.2M449.37 43.7v1.2M449.37 131.3v-1.2M449.37 138.4v-1.2M472.86 43.7v1.2M472.86 131.3v-1.2M472.86 138.4v-1.2M496.35 43.7v1.2M496.35 131.3v-1.2M496.35 138.4v-1.2" stroke="#666" stroke-width="0.35" fill="none"/>
<rect x="36.05" y="163.85" width="154.6" height="115.6" rx="1.1" fill="#fff" stroke="#484848" stroke-width="1.45"/>
<path d="M56.2 260V260H56.43V260H56.9V260H57.37V260H57.84V260H58.31V258.92H58.78V258.5H59.25V256.32H59.72V255.6H60.19V251.95H60.66V249.4H61.13V246.04H61.6V239.92H62.07V233.3H62.54V226.31H63.01V223.22H63.48V217.13H63.95V212.45H64.42V205.81H64.89V201.56H65.36V201.06H65.83V198.62H66.3V194.68H66.77V196.47H67.24V193.63H67.71V199.46H68.18V206.96H68.65V210.09H69.12V213.3H69.59V216.4H70.06V217.4H70.53V222.55H71V225.36H71.47V224.25H71.94V226.84H72.41V227.05H72.88V227.62H73.35V229.18H73.82V229.14H74.29V231.49H74.76V230.61H75.23V231.7H75.7V232.54H76.17V231.2H76.64V231.79H77.11V234.24H77.58V233.68H78.05V232.77H78.52V231.35H78.99V233H79.46V232.52H79.93V234.12H80.39V230.4H80.86V232.78H81.33V230.09H81.8V230.21H82.27V227.71H82.74V224.89H83.21V222.44H83.68V217.66H84.15V215.39H84.62V209.76H85.09V209.24H85.56V206.42H86.03V201.96H86.5V198.85H86.97V202.36H87.44V204.8H87.91V204.72H88.38V208H88.85V205.2H89.32V209.04H89.79V211.68H90.26V215.67H90.73V218.41H91.2V217.28H91.67V217.04H92.14V218.63H92.61V219.55H93.08V219.86H93.55V221.01H94.02V218.08H94.49V220.5H94.96V219.75H95.43V215.56H95.9V215.42H96.37V211.11H96.84V212.94H97.31V210.1H97.78V208.1H98.25V207.88H98.72V205.36H99.19V199.58H99.66V202.89H100.13V198.48H100.6V198.89H101.07V203.77H101.54V201.22H102.01V206.68H102.48V206.59H102.95V211.23H103.42V209.82H103.89V214.44H104.35V213.33H104.82V215.96H105.29V215.07H105.76V213.7H106.23V213.85H106.7V214.02H107.17V211.47H107.64V210.64H108.11V213.73H108.58V209.11H109.05V207.77H109.52V212.14H109.99V211.85H110.46V215.99H110.93V211.54H111.4V214.63H111.87V213.3H112.34V211H112.81V211.62H113.28V210.12H113.75V212.4H114.22V210.62H114.69V210.46H115.16V207.67H115.63V204.12H116.1V203.46H116.57V201.78H117.04V204.67H117.51V201.63H117.98V201.07H118.45V198.27H118.92V198.12H119.39V198.85H119.86V200.82H120.33V206.05H120.8V209.55H121.27V211.4H121.74V218.6H122.21V220.32H122.68V219.94H123.15V224.14H123.62V226.02H124.09V228.1H124.56V226.82H125.03V232.2H125.5V232.52H125.97V232.67H126.44V230.51H126.91V232.57H127.38V233.4H127.85V234.49H128.31V234.27H128.78V236.24H129.25V238.09H129.72V239.65H130.19V240.47H130.66V239.9H131.13V240.5H131.6V241.61H132.07V242.58H132.54V244.33H133.01V244.14H133.48V245.72H133.95V244.77H134.42V245.61H134.89V247.28H135.36V247.69H135.83V246.87H136.3V247.14H136.77V246.7H137.24V247.59H137.71V245.85H138.18V245.17H138.65V244.1H139.12V244.43H139.59V243.77H140.06V243.14H140.53V242.29H141V242.02H141.47V239.62H141.94V240.41H142.41V238.75H142.88V238.57H143.35V236.64H143.82V238.33H144.29V237.95H144.76V238.56H145.23V238.56H145.7V241.63H146.17V239.79H146.64V239.63H147.11V239.54H147.58V237.63H148.05V238.02H148.52V237.18H148.99V237.97H149.46V238.6H149.93V235.71H150.4V234.51H150.87V235.84H151.34V236.21H151.81V237.39H152.27V240.2H152.74V240.35H153.21V241.55H153.68V246.25H154.15V247.01H154.62V249.04H155.09V249.75H155.56V251.06H156.03V253.62H156.5V254.4H156.97V255.01H157.44V255.7H157.91V255.81H158.38V256.84H158.85V257.41H159.32V257.62H159.79V259.33H160.26V258.91H160.73V259.3H161.2V258.76H161.67V258.73H162.14V259.94H162.61V259.83H163.08V260H163.55V260H164.02V260H164.49V260H164.96V260H165.43V260H165.9V260H166.37V260H166.84V260H167.31V260H167.78V260H168.25V260H168.72V260H169.19V260H169.66V260H170.13V260H170.6V260H171.07V260H171.54V260H172.01V260H172.48V260H172.95V260H173.42V260H173.89V260H174.36V260H174.83V260H175.3V260H175.77V260H176.23V260Z" fill="#3ea2c1"/>
<path d="M56.2 260V260H56.43V260H56.9V260H57.37V260H57.84V260H58.31V258.92H58.78V258.5H59.25V256.32H59.72V255.6H60.19V251.95H60.66V249.4H61.13V246.04H61.6V239.92H62.07V233.3H62.54V226.31H63.01V223.22H63.48V217.13H63.95V212.45H64.42V205.81H64.89V201.56H65.36V201.06H65.83V198.62H66.3V194.68H66.77V196.47H67.24V193.63H67.71V199.46H68.18V206.96H68.65V210.09H69.12V213.3H69.59V216.4H70.06V217.4H70.53V222.55H71V225.36H71.47V224.25H71.94V226.84H72.41V227.05H72.88V227.62H73.35V229.18H73.82V229.14H74.29V231.49H74.76V230.61H75.23V231.7H75.7V232.54H76.17V231.2H76.64V231.79H77.11V234.24H77.58V233.68H78.05V232.77H78.52V231.35H78.99V233H79.46V232.52H79.93V234.12H80.39V230.4H80.86V232.78H81.33V230.09H81.8V230.21H82.27V227.71H82.74V224.89H83.21V222.44H83.68V217.66H84.15V215.39H84.62V209.76H85.09V209.24H85.56V206.42H86.03V201.96H86.5V198.85H86.97V202.36H87.44V204.8H87.91V204.72H88.38V208H88.85V205.2H89.32V209.04H89.79V211.68H90.26V215.67H90.73V218.41H91.2V217.28H91.67V217.04H92.14V218.63H92.61V219.55H93.08V219.86H93.55V221.01H94.02V218.08H94.49V220.5H94.96V219.75H95.43V215.56H95.9V215.42H96.37V211.11H96.84V212.94H97.31V210.1H97.78V208.1H98.25V207.88H98.72V205.36H99.19V199.58H99.66V202.89H100.13V198.48H100.6V198.89H101.07V203.77H101.54V201.22H102.01V206.68H102.48V206.59H102.95V211.23H103.42V209.82H103.89V214.44H104.35V213.33H104.82V215.96H105.29V215.07H105.76V213.7H106.23V213.85H106.7V214.02H107.17V211.47H107.64V210.64H108.11V213.73H108.58V209.11H109.05V207.77H109.52V212.14H109.99V211.85H110.46V215.99H110.93V211.54H111.4V214.63H111.87V213.3H112.34V211H112.81V211.62H113.28V210.12H113.75V212.4H114.22V210.62H114.69V210.46H115.16V207.67H115.63V204.12H116.1V203.46H116.57V201.78H117.04V204.67H117.51V201.63H117.98V201.07H118.45V198.27H118.92V198.12H119.39V198.85H119.86V200.82H120.33V206.05H120.8V209.55H121.27V211.4H121.74V218.6H122.21V220.32H122.68V219.94H123.15V224.14H123.62V226.02H124.09V228.1H124.56V226.82H125.03V232.2H125.5V232.52H125.97V232.67H126.44V230.51H126.91V232.57H127.38V233.4H127.85V234.49H128.31V234.27H128.78V236.24H129.25V238.09H129.72V239.65H130.19V240.47H130.66V239.9H131.13V240.5H131.6V241.61H132.07V242.58H132.54V244.33H133.01V244.14H133.48V245.72H133.95V244.77H134.42V245.61H134.89V247.28H135.36V247.69H135.83V246.87H136.3V247.14H136.77V246.7H137.24V247.59H137.71V245.85H138.18V245.17H138.65V244.1H139.12V244.43H139.59V243.77H140.06V243.14H140.53V242.29H141V242.02H141.47V239.62H141.94V240.41H142.41V238.75H142.88V238.57H143.35V236.64H143.82V238.33H144.29V237.95H144.76V238.56H145.23V238.56H145.7V241.63H146.17V239.79H146.64V239.63H147.11V239.54H147.58V237.63H148.05V238.02H148.52V237.18H148.99V237.97H149.46V238.6H149.93V235.71H150.4V234.51H150.87V235.84H151.34V236.21H151.81V237.39H152.27V240.2H152.74V240.35H153.21V241.55H153.68V246.25H154.15V247.01H154.62V249.04H155.09V249.75H155.56V251.06H156.03V253.62H156.5V254.4H156.97V255.01H157.44V255.7H157.91V255.81H158.38V256.84H158.85V257.41H159.32V257.62H159.79V259.33H160.26V258.91H160.73V259.3H161.2V258.76H161.67V258.73H162.14V259.94H162.61V259.83H163.08V260H163.55V260H164.02V260H164.49V260H164.96V260H165.43V260H165.9V260H166.37V260H166.84V260H167.31V260H167.78V260H168.25V260H168.72V260H169.19V260H169.66V260H170.13V260H170.6V260H171.07V260H171.54V260H172.01V260H172.48V260H172.95V260H173.42V260H173.89V260H174.36V260H174.83V260H175.3V260H175.77V260H176.23V260Z" fill="url(#st)"/>
<rect x="56.2" y="260" width="119.8" height="7.1" fill="url(#gr)" stroke="#666" stroke-width="0.35"/>
<rect x="56.2" y="172.4" width="119.8" height="87.6" fill="none" stroke="#808080" stroke-width="0.38"/>
<text x="54" y="261.55" font-family="Liberation Sans, Arial, Helvetica, sans-serif" font-size="3.4" text-anchor="end" fill="#5a5a5a">0</text>
<text x="54" y="250.32" font-family="Liberation Sans, Arial, Helvetica, sans-serif" font-size="3.4" text-anchor="end" fill="#5a5a5a">100</text>
<text x="54" y="239.09" font-family="Liberation Sans, Arial, Helvetica, sans-serif" font-size="3.4" text-anchor="end" fill="#5a5a5a">200</text>
<text x="54" y="227.86" font-family="Liberation Sans, Arial, Helvetica, sans-serif" font-size="3.4" text-anchor="end" fill="#5a5a5a">300</text>
<text x="54" y="216.64" font-family="Liberation Sans, Arial, Helvetica, sans-serif" font-size="3.4" text-anchor="end" fill="#5a5a5a">400</text>
<text x="54" y="205.41" font-family="Liberation Sans, Arial, Helvetica, sans-serif" font-size="3.4" text-anchor="end" fill="#5a5a5a">500</text>
<text x="54" y="194.18" font-family="Liberation Sans, Arial, Helvetica, sans-serif" font-size="3.4" text-anchor="end" fill="#5a5a5a">600</text>
<text x="54" y="182.95" font-family="Liberation Sans, Arial, Helvetica, sans-serif" font-size="3.4" text-anchor="end" fill="#5a5a5a">700</text>
<text x="56.2" y="273" font-family="Liberation Sans, Arial, Helvetica, sans-serif" font-size="3.4" text-anchor="middle" fill="#5a5a5a">0</text>
<text x="79.69" y="273" font-family="Liberation Sans, Arial, Helvetica, sans-serif" font-size="3.4" text-anchor="middle" fill="#5a5a5a">50</text>
<text x="103.18" y="273" font-family="Liberation Sans, Arial, Helvetica, sans-serif" font-size="3.4" text-anchor="middle" fill="#5a5a5a">100</text>
<text x="126.67" y="273" font-family="Liberation Sans, Arial, Helvetica, sans-serif" font-size="3.4" text-anchor="middle" fill="#5a5a5a">150</text>
<text x="150.16" y="273" font-family="Liberation Sans, Arial, Helvetica, sans-serif" font-size="3.4" text-anchor="middle" fill="#5a5a5a">200</text>
<text x="173.65" y="273" font-family="Liberation Sans, Arial, Helvetica, sans-serif" font-size="3.4" text-anchor="middle" fill="#5a5a5a">250</text>
<path d="M56.2 260h1.2M176 260h-1.2M56.2 248.77h1.2M176 248.77h-1.2M56.2 237.54h1.2M176 237.54h-1.2M56.2 226.31h1.2M176 226.31h-1.2M56.2 215.09h1.2M176 215.09h-1.2M56.2 203.86h1.2M176 203.86h-1.2M56.2 192.63h1.2M176 192.63h-1.2M56.2 181.4h1.2M176 181.4h-1.2M56.2 172.4v1.2M56.2 260v-1.2M56.2 267.1v-1.2M79.69 172.4v1.2M79.69 260v-1.2M79.69 267.1v-1.2M103.18 172.4v1.2M103.18 260v-1.2M103.18 267.1v-1.2M126.67 172.4v1.2M126.67 260v-1.2M126.67 267.1v-1.2M150.16 172.4v1.2M150.16 260v-1.2M150.16 267.1v-1.2M173.65 172.4v1.2M173.65 260v-1.2M173.65 267.1v-1.2" stroke="#666" stroke-width="0.35" fill="none"/>
<rect x="197.75" y="163.85" width="154.6" height="115.6" rx="1.1" fill="#fff" stroke="#484848" stroke-width="1.45"/>
<path d="M217.3 260V223.42H217.53V224.72H218V219.57H218.47V223.51H218.94V222.14H219.41V225.88H219.88V223.82H220.35V223.39H220.82V223.04H221.29V223.63H221.76V224.73H222.23V228.37H222.7V224.42H223.17V224.5H223.64V223.3H224.11V221.87H224.58V219.73H225.05V221.73H225.52V221.22H225.99V222.34H226.46V222.38H226.93V222.2H227.4V223.19H227.87V223.75H228.34V222.56H228.81V220.16H229.28V221.52H229.75V219.92H230.22V225.46H230.69V222.58H231.16V222.31H231.63V222.24H232.1V225.57H232.57V225.82H233.04V226.48H233.51V223.47H233.98V218.71H234.45V222.78H234.92V224.92H235.39V222.62H235.86V223.62H236.33V222.73H236.8V223.92H237.27V225.7H237.74V223.63H238.21V221.95H238.68V223H239.15V221.79H239.62V225H240.09V221.33H240.56V222.88H241.03V222.64H241.49V221.33H241.96V223.34H242.43V223.31H242.9V222.23H243.37V222.03H243.84V222.18H244.31V221.29H244.78V222.49H245.25V224.09H245.72V219.15H246.19V224.07H246.66V222.91H247.13V225.59H247.6V227.9H248.07V225.83H248.54V224.45H249.01V223.99H249.48V224.68H249.95V223.77H250.42V223.03H250.89V223.7H251.36V225.57H251.83V225.44H252.3V226H252.77V227.3H253.24V224.1H253.71V228.16H254.18V226.18H254.65V225.62H255.12V229.38H255.59V225.24H256.06V226.79H256.53V226.28H257V226.98H257.47V228.54H257.94V226.11H258.41V226.25H258.88V225.47H259.35V226.16H259.82V229.69H260.29V225.02H260.76V225.83H261.23V226.11H261.7V226.29H262.17V227.85H262.64V226.67H263.11V227.78H263.58V222.28H264.05V227.16H264.52V228.48H264.99V227.76H265.45V224.22H265.92V227.36H266.39V230.23H266.86V224.89H267.33V226.12H267.8V227.18H268.27V225.77H268.74V228.18H269.21V228.61H269.68V225.13H270.15V227.55H270.62V225.99H271.09V227.07H271.56V225.89H272.03V226.26H272.5V229.3H272.97V225.4H273.44V226.97H273.91V225.46H274.38V226.47H274.85V224.39H275.32V227.13H275.79V229.23H276.26V227.44H276.73V225.97H277.2V227.19H277.67V227.46H278.14V224.12H278.61V227.32H279.08V224.65H279.55V226.06H280.02V228.61H280.49V227.55H280.96V226.34H281.43V225.98H281.9V227.51H282.37V228.5H282.84V227.85H283.31V227.38H283.78V227.98H284.25V227.15H284.72V223.77H285.19V225.75H285.66V227.43H286.13V226.54H286.6V223.92H287.07V225.39H287.54V226.57H288.01V228.11H288.48V228.91H288.95V226.8H289.41V227.03H289.88V228.62H290.35V228.73H290.82V226.47H291.29V229.21H291.76V228.41H292.23V226.46H292.7V225.75H293.17V225.66H293.64V224.83H294.11V223.74H294.58V225.22H295.05V226.3H295.52V222.54H295.99V224.02H296.46V224.95H296.93V227.58H297.4V225.33H297.87V229.85H298.34V226.57H298.81V229.96H299.28V226.95H299.75V224.24H300.22V226.4H300.69V223.7H301.16V225.92H301.63V225.26H302.1V226.08H302.57V224.82H303.04V225.24H303.51V223.48H303.98V222.78H304.45V224.53H304.92V226.61H305.39V223.22H305.86V222.89H306.33V223.53H306.8V224.12H307.27V223.02H307.74V221.83H308.21V228.23H308.68V221.53H309.15V222.99H309.62V223.53H310.09V224.85H310.56V223.7H311.03V223.12H311.5V226.13H311.97V222.98H312.44V223.91H312.91V221.18H313.37V222.66H313.84V223.8H314.31V223.8H314.78V222.38H315.25V223.53H315.72V222.27H316.19V224.44H316.66V225.37H317.13V223.93H317.6V225.62H318.07V224.78H318.54V222.33H319.01V225.94H319.48V225.05H319.95V222.12H320.42V223.93H320.89V223.64H321.36V225.77H321.83V225.51H322.3V223.71H322.77V221.29H323.24V223.2H323.71V226.58H324.18V222.67H324.65V221.85H325.12V222.58H325.59V225.29H326.06V223.53H326.53V219.72H327V224.8H327.47V223.18H327.94V224.72H328.41V225.68H328.88V224.15H329.35V221.85H329.82V221.69H330.29V224.82H330.76V224.31H331.23V224.79H331.7V226.91H332.17V222.55H332.64V220.68H333.11V220.75H333.58V223.87H334.05V221.08H334.52V221.67H334.99V223.89H335.46V223.33H335.93V224.43H336.4V223.24H336.87V219.91H337.33V260Z" fill="#51a9dc"/>
<path d="M217.3 260V223.42H217.53V224.72H218V219.57H218.47V223.51H218.94V222.14H219.41V225.88H219.88V223.82H220.35V223.39H220.82V223.04H221.29V223.63H221.76V224.73H222.23V228.37H222.7V224.42H223.17V224.5H223.64V223.3H224.11V221.87H224.58V219.73H225.05V221.73H225.52V221.22H225.99V222.34H226.46V222.38H226.93V222.2H227.4V223.19H227.87V223.75H228.34V222.56H228.81V220.16H229.28V221.52H229.75V219.92H230.22V225.46H230.69V222.58H231.16V222.31H231.63V222.24H232.1V225.57H232.57V225.82H233.04V226.48H233.51V223.47H233.98V218.71H234.45V222.78H234.92V224.92H235.39V222.62H235.86V223.62H236.33V222.73H236.8V223.92H237.27V225.7H237.74V223.63H238.21V221.95H238.68V223H239.15V221.79H239.62V225H240.09V221.33H240.56V222.88H241.03V222.64H241.49V221.33H241.96V223.34H242.43V223.31H242.9V222.23H243.37V222.03H243.84V222.18H244.31V221.29H244.78V222.49H245.25V224.09H245.72V219.15H246.19V224.07H246.66V222.91H247.13V225.59H247.6V227.9H248.07V225.83H248.54V224.45H249.01V223.99H249.48V224.68H249.95V223.77H250.42V223.03H250.89V223.7H251.36V225.57H251.83V225.44H252.3V226H252.77V227.3H253.24V224.1H253.71V228.16H254.18V226.18H254.65V225.62H255.12V229.38H255.59V225.24H256.06V226.79H256.53V226.28H257V226.98H257.47V228.54H257.94V226.11H258.41V226.25H258.88V225.47H259.35V226.16H259.82V229.69H260.29V225.02H260.76V225.83H261.23V226.11H261.7V226.29H262.17V227.85H262.64V226.67H263.11V227.78H263.58V222.28H264.05V227.16H264.52V228.48H264.99V227.76H265.45V224.22H265.92V227.36H266.39V230.23H266.86V224.89H267.33V226.12H267.8V227.18H268.27V225.77H268.74V228.18H269.21V228.61H269.68V225.13H270.15V227.55H270.62V225.99H271.09V227.07H271.56V225.89H272.03V226.26H272.5V229.3H272.97V225.4H273.44V226.97H273.91V225.46H274.38V226.47H274.85V224.39H275.32V227.13H275.79V229.23H276.26V227.44H276.73V225.97H277.2V227.19H277.67V227.46H278.14V224.12H278.61V227.32H279.08V224.65H279.55V226.06H280.02V228.61H280.49V227.55H280.96V226.34H281.43V225.98H281.9V227.51H282.37V228.5H282.84V227.85H283.31V227.38H283.78V227.98H284.25V227.15H284.72V223.77H285.19V225.75H285.66V227.43H286.13V226.54H286.6V223.92H287.07V225.39H287.54V226.57H288.01V228.11H288.48V228.91H288.95V226.8H289.41V227.03H289.88V228.62H290.35V228.73H290.82V226.47H291.29V229.21H291.76V228.41H292.23V226.46H292.7V225.75H293.17V225.66H293.64V224.83H294.11V223.74H294.58V225.22H295.05V226.3H295.52V222.54H295.99V224.02H296.46V224.95H296.93V227.58H297.4V225.33H297.87V229.85H298.34V226.57H298.81V229.96H299.28V226.95H299.75V224.24H300.22V226.4H300.69V223.7H301.16V225.92H301.63V225.26H302.1V226.08H302.57V224.82H303.04V225.24H303.51V223.48H303.98V222.78H304.45V224.53H304.92V226.61H305.39V223.22H305.86V222.89H306.33V223.53H306.8V224.12H307.27V223.02H307.74V221.83H308.21V228.23H308.68V221.53H309.15V222.99H309.62V223.53H310.09V224.85H310.56V223.7H311.03V223.12H311.5V226.13H311.97V222.98H312.44V223.91H312.91V221.18H313.37V222.66H313.84V223.8H314.31V223.8H314.78V222.38H315.25V223.53H315.72V222.27H316.19V224.44H316.66V225.37H317.13V223.93H317.6V225.62H318.07V224.78H318.54V222.33H319.01V225.94H319.48V225.05H319.95V222.12H320.42V223.93H320.89V223.64H321.36V225.77H321.83V225.51H322.3V223.71H322.77V221.29H323.24V223.2H323.71V226.58H324.18V222.67H324.65V221.85H325.12V222.58H325.59V225.29H326.06V223.53H326.53V219.72H327V224.8H327.47V223.18H327.94V224.72H328.41V225.68H328.88V224.15H329.35V221.85H329.82V221.69H330.29V224.82H330.76V224.31H331.23V224.79H331.7V226.91H332.17V222.55H332.64V220.68H333.11V220.75H333.58V223.87H334.05V221.08H334.52V221.67H334.99V223.89H335.46V223.33H335.93V224.43H336.4V223.24H336.87V219.91H337.33V260Z" fill="url(#sb)"/>
<rect x="336.75" y="191.15" width="0.7" height="68.85" fill="#a9d4ef"/>
<rect x="217.3" y="260" width="120.1" height="7.1" fill="url(#gr)" stroke="#666" stroke-width="0.35"/>
<rect x="217.3" y="172.4" width="120.1" height="87.6" fill="none" stroke="#808080" stroke-width="0.38"/>
<text x="215.1" y="261.55" font-family="Liberation Sans, Arial, Helvetica, sans-serif" font-size="3.4" text-anchor="end" fill="#5a5a5a">0</text>
<text x="215.1" y="247.92" font-family="Liberation Sans, Arial, Helvetica, sans-serif" font-size="3.4" text-anchor="end" fill="#5a5a5a">100</text>
<text x="215.1" y="234.28" font-family="Liberation Sans, Arial, Helvetica, sans-serif" font-size="3.4" text-anchor="end" fill="#5a5a5a">200</text>
<text x="215.1" y="220.65" font-family="Liberation Sans, Arial, Helvetica, sans-serif" font-size="3.4" text-anchor="end" fill="#5a5a5a">300</text>
<text x="215.1" y="207.02" font-family="Liberation Sans, Arial, Helvetica, sans-serif" font-size="3.4" text-anchor="end" fill="#5a5a5a">400</text>
<text x="215.1" y="193.38" font-family="Liberation Sans, Arial, Helvetica, sans-serif" font-size="3.4" text-anchor="end" fill="#5a5a5a">500</text>
<text x="215.1" y="179.75" font-family="Liberation Sans, Arial, Helvetica, sans-serif" font-size="3.4" text-anchor="end" fill="#5a5a5a">600</text>
<text x="217.3" y="273" font-family="Liberation Sans, Arial, Helvetica, sans-serif" font-size="3.4" text-anchor="middle" fill="#5a5a5a">0</text>
<text x="240.79" y="273" font-family="Liberation Sans, Arial, Helvetica, sans-serif" font-size="3.4" text-anchor="middle" fill="#5a5a5a">50</text>
<text x="264.28" y="273" font-family="Liberation Sans, Arial, Helvetica, sans-serif" font-size="3.4" text-anchor="middle" fill="#5a5a5a">100</text>
<text x="287.77" y="273" font-family="Liberation Sans, Arial, Helvetica, sans-serif" font-size="3.4" text-anchor="middle" fill="#5a5a5a">150</text>
<text x="311.26" y="273" font-family="Liberation Sans, Arial, Helvetica, sans-serif" font-size="3.4" text-anchor="middle" fill="#5a5a5a">200</text>
<text x="334.75" y="273" font-family="Liberation Sans, Arial, Helvetica, sans-serif" font-size="3.4" text-anchor="middle" fill="#5a5a5a">250</text>
<path d="M217.3 260h1.2M337.4 260h-1.2M217.3 246.37h1.2M337.4 246.37h-1.2M217.3 232.73h1.2M337.4 232.73h-1.2M217.3 219.1h1.2M337.4 219.1h-1.2M217.3 205.47h1.2M337.4 205.47h-1.2M217.3 191.83h1.2M337.4 191.83h-1.2M217.3 178.2h1.2M337.4 178.2h-1.2M217.3 172.4v1.2M217.3 260v-1.2M217.3 267.1v-1.2M240.79 172.4v1.2M240.79 260v-1.2M240.79 267.1v-1.2M264.28 172.4v1.2M264.28 260v-1.2M264.28 267.1v-1.2M287.77 172.4v1.2M287.77 260v-1.2M287.77 267.1v-1.2M311.26 172.4v1.2M311.26 260v-1.2M311.26 267.1v-1.2M334.75 172.4v1.2M334.75 260v-1.2M334.75 267.1v-1.2" stroke="#666" stroke-width="0.35" fill="none"/>
<rect x="358.75" y="163.85" width="154.6" height="115.6" rx="1.1" fill="#fff" stroke="#484848" stroke-width="1.45"/>
<path d="M378.9 260V260H379.13V260H379.6V260H380.07V260H380.54V260H381.01V258.92H381.48V258.5H381.95V256.32H382.42V255.6H382.89V251.95H383.36V249.4H383.83V246.04H384.3V239.92H384.77V233.3H385.24V226.31H385.71V223.22H386.18V217.13H386.65V212.45H387.12V205.81H387.59V201.56H388.06V201.06H388.53V198.62H389V194.68H389.47V196.47H389.94V193.63H390.41V199.46H390.88V206.96H391.35V210.09H391.82V213.3H392.29V216.4H392.76V217.4H393.23V222.55H393.7V225.36H394.17V224.25H394.64V226.84H395.11V227.05H395.58V227.62H396.05V229.18H396.52V229.14H396.99V231.49H397.46V230.61H397.93V231.7H398.4V232.54H398.87V231.2H399.34V231.79H399.81V234.24H400.28V233.68H400.75V232.77H401.22V231.35H401.69V233H402.16V232.52H402.63V234.12H403.09V230.4H403.56V232.78H404.03V230.09H404.5V230.21H404.97V227.71H405.44V224.89H405.91V222.44H406.38V217.66H406.85V215.39H407.32V209.76H407.79V209.24H408.26V206.42H408.73V201.96H409.2V198.85H409.67V202.36H410.14V204.8H410.61V204.72H411.08V208H411.55V205.2H412.02V209.04H412.49V211.68H412.96V215.67H413.43V218.41H413.9V217.28H414.37V217.04H414.84V218.63H415.31V219.55H415.78V219.86H416.25V221.01H416.72V218.08H417.19V220.5H417.66V219.75H418.13V215.56H418.6V215.42H419.07V211.11H419.54V212.94H420.01V210.1H420.48V208.1H420.95V207.88H421.42V205.36H421.89V199.58H422.36V202.89H422.83V198.48H423.3V198.89H423.77V203.77H424.24V201.22H424.71V206.68H425.18V206.59H425.65V211.23H426.12V209.82H426.59V214.44H427.05V213.33H427.52V215.96H427.99V215.07H428.46V213.7H428.93V213.85H429.4V214.02H429.87V211.47H430.34V210.64H430.81V213.73H431.28V209.11H431.75V207.77H432.22V212.14H432.69V211.85H433.16V215.99H433.63V211.54H434.1V214.63H434.57V213.3H435.04V211H435.51V211.62H435.98V210.12H436.45V212.4H436.92V210.62H437.39V210.46H437.86V207.67H438.33V204.12H438.8V203.46H439.27V201.78H439.74V204.67H440.21V201.63H440.68V201.07H441.15V198.27H441.62V198.12H442.09V198.85H442.56V200.82H443.03V206.05H443.5V209.55H443.97V211.4H444.44V218.6H444.91V220.32H445.38V219.94H445.85V224.14H446.32V226.02H446.79V228.1H447.26V226.82H447.73V232.2H448.2V232.52H448.67V232.67H449.14V230.51H449.61V232.57H450.08V233.4H450.55V234.49H451.01V234.27H451.48V236.24H451.95V238.09H452.42V239.65H452.89V240.47H453.36V239.9H453.83V240.5H454.3V241.61H454.77V242.58H455.24V244.33H455.71V244.14H456.18V245.72H456.65V244.77H457.12V245.61H457.59V247.28H458.06V247.69H458.53V246.87H459V247.14H459.47V246.7H459.94V247.59H460.41V245.85H460.88V245.17H461.35V244.1H461.82V244.43H462.29V243.77H462.76V243.14H463.23V242.29H463.7V242.02H464.17V239.62H464.64V240.41H465.11V238.75H465.58V238.57H466.05V236.64H466.52V238.33H466.99V237.95H467.46V238.56H467.93V238.56H468.4V241.63H468.87V239.79H469.34V239.63H469.81V239.54H470.28V237.63H470.75V238.02H471.22V237.18H471.69V237.97H472.16V238.6H472.63V235.71H473.1V234.51H473.57V235.84H474.04V236.21H474.51V237.39H474.97V240.2H475.44V240.35H475.91V241.55H476.38V246.25H476.85V247.01H477.32V249.04H477.79V249.75H478.26V251.06H478.73V253.62H479.2V254.4H479.67V255.01H480.14V255.7H480.61V255.81H481.08V256.84H481.55V257.41H482.02V257.62H482.49V259.33H482.96V258.91H483.43V259.3H483.9V258.76H484.37V258.73H484.84V259.94H485.31V259.83H485.78V260H486.25V260H486.72V260H487.19V260H487.66V260H488.13V260H488.6V260H489.07V260H489.54V260H490.01V260H490.48V260H490.95V260H491.42V260H491.89V260H492.36V260H492.83V260H493.3V260H493.77V260H494.24V260H494.71V260H495.18V260H495.65V260H496.12V260H496.59V260H497.06V260H497.53V260H498V260H498.47V260H498.93V260Z" fill="#3ea2c1"/>
<path d="M378.9 260V260H379.13V260H379.6V260H380.07V260H380.54V260H381.01V258.92H381.48V258.5H381.95V256.32H382.42V255.6H382.89V251.95H383.36V249.4H383.83V246.04H384.3V239.92H384.77V233.3H385.24V226.31H385.71V223.22H386.18V217.13H386.65V212.45H387.12V205.81H387.59V201.56H388.06V201.06H388.53V198.62H389V194.68H389.47V196.47H389.94V193.63H390.41V199.46H390.88V206.96H391.35V210.09H391.82V213.3H392.29V216.4H392.76V217.4H393.23V222.55H393.7V225.36H394.17V224.25H394.64V226.84H395.11V227.05H395.58V227.62H396.05V229.18H396.52V229.14H396.99V231.49H397.46V230.61H397.93V231.7H398.4V232.54H398.87V231.2H399.34V231.79H399.81V234.24H400.28V233.68H400.75V232.77H401.22V231.35H401.69V233H402.16V232.52H402.63V234.12H403.09V230.4H403.56V232.78H404.03V230.09H404.5V230.21H404.97V227.71H405.44V224.89H405.91V222.44H406.38V217.66H406.85V215.39H407.32V209.76H407.79V209.24H408.26V206.42H408.73V201.96H409.2V198.85H409.67V202.36H410.14V204.8H410.61V204.72H411.08V208H411.55V205.2H412.02V209.04H412.49V211.68H412.96V215.67H413.43V218.41H413.9V217.28H414.37V217.04H414.84V218.63H415.31V219.55H415.78V219.86H416.25V221.01H416.72V218.08H417.19V220.5H417.66V219.75H418.13V215.56H418.6V215.42H419.07V211.11H419.54V212.94H420.01V210.1H420.48V208.1H420.95V207.88H421.42V205.36H421.89V199.58H422.36V202.89H422.83V198.48H423.3V198.89H423.77V203.77H424.24V201.22H424.71V206.68H425.18V206.59H425.65V211.23H426.12V209.82H426.59V214.44H427.05V213.33H427.52V215.96H427.99V215.07H428.46V213.7H428.93V213.85H429.4V214.02H429.87V211.47H430.34V210.64H430.81V213.73H431.28V209.11H431.75V207.77H432.22V212.14H432.69V211.85H433.16V215.99H433.63V211.54H434.1V214.63H434.57V213.3H435.04V211H435.51V211.62H435.98V210.12H436.45V212.4H436.92V210.62H437.39V210.46H437.86V207.67H438.33V204.12H438.8V203.46H439.27V201.78H439.74V204.67H440.21V201.63H440.68V201.07H441.15V198.27H441.62V198.12H442.09V198.85H442.56V200.82H443.03V206.05H443.5V209.55H443.97V211.4H444.44V218.6H444.91V220.32H445.38V219.94H445.85V224.14H446.32V226.02H446.79V228.1H447.26V226.82H447.73V232.2H448.2V232.52H448.67V232.67H449.14V230.51H449.61V232.57H450.08V233.4H450.55V234.49H451.01V234.27H451.48V236.24H451.95V238.09H452.42V239.65H452.89V240.47H453.36V239.9H453.83V240.5H454.3V241.61H454.77V242.58H455.24V244.33H455.71V244.14H456.18V245.72H456.65V244.77H457.12V245.61H457.59V247.28H458.06V247.69H458.53V246.87H459V247.14H459.47V246.7H459.94V247.59H460.41V245.85H460.88V245.17H461.35V244.1H461.82V244.43H462.29V243.77H462.76V243.14H463.23V242.29H463.7V242.02H464.17V239.62H464.64V240.41H465.11V238.75H465.58V238.57H466.05V236.64H466.52V238.33H466.99V237.95H467.46V238.56H467.93V238.56H468.4V241.63H468.87V239.79H469.34V239.63H469.81V239.54H470.28V237.63H470.75V238.02H471.22V237.18H471.69V237.97H472.16V238.6H472.63V235.71H473.1V234.51H473.57V235.84H474.04V236.21H474.51V237.39H474.97V240.2H475.44V240.35H475.91V241.55H476.38V246.25H476.85V247.01H477.32V249.04H477.79V249.75H478.26V251.06H478.73V253.62H479.2V254.4H479.67V255.01H480.14V255.7H480.61V255.81H481.08V256.84H481.55V257.41H482.02V257.62H482.49V259.33H482.96V258.91H483.43V259.3H483.9V258.76H484.37V258.73H484.84V259.94H485.31V259.83H485.78V260H486.25V260H486.72V260H487.19V260H487.66V260H488.13V260H488.6V260H489.07V260H489.54V260H490.01V260H490.48V260H490.95V260H491.42V260H491.89V260H492.36V260H492.83V260H493.3V260H493.77V260H494.24V260H494.71V260H495.18V260H495.65V260H496.12V260H496.59V260H497.06V260H497.53V260H498V260H498.47V260H498.93V260Z" fill="url(#st)"/>
<rect x="378.9" y="260" width="119.8" height="7.1" fill="url(#gr)" stroke="#666" stroke-width="0.35"/>
<rect x="378.9" y="172.4" width="119.8" height="87.6" fill="none" stroke="#808080" stroke-width="0.38"/>
<text x="376.7" y="261.55" font-family="Liberation Sans, Arial, Helvetica, sans-serif" font-size="3.4" text-anchor="end" fill="#5a5a5a">0</text>
<text x="376.7" y="250.32" font-family="Liberation Sans, Arial, Helvetica, sans-serif" font-size="3.4" text-anchor="end" fill="#5a5a5a">100</text>
<text x="376.7" y="239.09" font-family="Liberation Sans, Arial, Helvetica, sans-serif" font-size="3.4" text-anchor="end" fill="#5a5a5a">200</text>
<text x="376.7" y="227.86" font-family="Liberation Sans, Arial, Helvetica, sans-serif" font-size="3.4" text-anchor="end" fill="#5a5a5a">300</text>
<text x="376.7" y="216.64" font-family="Liberation Sans, Arial, Helvetica, sans-serif" font-size="3.4" text-anchor="end" fill="#5a5a5a">400</text>
<text x="376.7" y="205.41" font-family="Liberation Sans, Arial, Helvetica, sans-serif" font-size="3.4" text-anchor="end" fill="#5a5a5a">500</text>
<text x="376.7" y="194.18" font-family="Liberation Sans, Arial, Helvetica, sans-serif" font-size="3.4" text-anchor="end" fill="#5a5a5a">600</text>
<text x="376.7" y="182.95" font-family="Liberation Sans, Arial, Helvetica, sans-serif" font-size="3.4" text-anchor="end" fill="#5a5a5a">700</text>
<text x="378.9" y="273" font-family="Liberation Sans, Arial, Helvetica, sans-serif" font-size="3.4" text-anchor="middle" fill="#5a5a5a">0</text>
<text x="402.39" y="273" font-family="Liberation Sans, Arial, Helvetica, sans-serif" font-size="3.4" text-anchor="middle" fill="#5a5a5a">50</text>
<text x="425.88" y="273" font-family="Liberation Sans, Arial, Helvetica, sans-serif" font-size="3.4" text-anchor="middle" fill="#5a5a5a">100</text>
<text x="449.37" y="273" font-family="Liberation Sans, Arial, Helvetica, sans-serif" font-size="3.4" text-anchor="middle" fill="#5a5a5a">150</text>
<text x="472.86" y="273" font-family="Liberation Sans, Arial, Helvetica, sans-serif" font-size="3.4" text-anchor="middle" fill="#5a5a5a">200</text>
<text x="496.35" y="273" font-family="Liberation Sans, Arial, Helvetica, sans-serif" font-size="3.4" text-anchor="middle" fill="#5a5a5a">250</text>
<path d="M378.9 260h1.2M498.7 260h-1.2M378.9 248.77h1.2M498.7 248.77h-1.2M378.9 237.54h1.2M498.7 237.54h-1.2M378.9 226.31h1.2M498.7 226.31h-1.2M378.9 215.09h1.2M498.7 215.09h-1.2M378.9 203.86h1.2M498.7 203.86h-1.2M378.9 192.63h1.2M498.7 192.63h-1.2M378.9 181.4h1.2M498.7 181.4h-1.2M378.9 172.4v1.2M378.9 260v-1.2M378.9 267.1v-1.2M402.39 172.4v1.2M402.39 260v-1.2M402.39 267.1v-1.2M425.88 172.4v1.2M425.88 260v-1.2M425.88 267.1v-1.2M449.37 172.4v1.2M449.37 260v-1.2M449.37 267.1v-1.2M472.86 172.4v1.2M472.86 260v-1.2M472.86 267.1v-1.2M496.35 172.4v1.2M496.35 260v-1.2M496.35 267.1v-1.2" stroke="#666" stroke-width="0.35" fill="none"/>
<rect x="36.05" y="293.35" width="154.6" height="115.6" rx="1.1" fill="#fff" stroke="#484848" stroke-width="1.45"/>
<path d="M56.2 389.5V389.5H56.43V389.5H56.9V389.5H57.37V389.5H57.84V389.5H58.31V389.5H58.78V371.9H59.25V336.97H59.72V301.9H60.19V301.9H60.66V301.9H61.13V301.9H61.6V301.9H62.07V301.9H62.54V301.9H63.01V303.11H63.48V333.01H63.95V356.39H64.42V365.48H64.89V369.89H65.36V376.21H65.83V378.34H66.3V378.71H66.77V380.24H67.24V381.38H67.71V381.31H68.18V381.5H68.65V381.09H69.12V381.48H69.59V381.31H70.06V381.18H70.53V381.41H71V381.05H71.47V380.82H71.94V381.54H72.41V381.14H72.88V381.48H73.35V380.32H73.82V381.73H74.29V382.01H74.76V382.53H75.23V382.02H75.7V381.96H76.17V384.21H76.64V382.92H77.11V384.22H77.58V382.65H78.05V383.89H78.52V384.46H78.99V383.89H79.46V382.78H79.93V382.97H80.39V383.62H80.86V383.77H81.33V384.05H81.8V383.15H82.27V384.19H82.74V384.18H83.21V384.3H83.68V384.33H84.15V383.24H84.62V383.35H85.09V383.49H85.56V383.71H86.03V383.22H86.5V382.74H86.97V383.38H87.44V383.72H87.91V383.95H88.38V383.19H88.85V383.96H89.32V384.5H89.79V384.6H90.26V384.66H90.73V384.18H91.2V384.29H91.67V385.22H92.14V386.1H92.61V385.36H93.08V386.1H93.55V384.73H94.02V384.43H94.49V384.42H94.96V384.85H95.43V384.04H95.9V383.06H96.37V383.4H96.84V382.41H97.31V382.02H97.78V381.9H98.25V381.81H98.72V381.23H99.19V380.58H99.66V379.79H100.13V379.31H100.6V378.6H101.07V377.61H101.54V378H102.01V377.16H102.48V376.2H102.95V375.83H103.42V374.65H103.89V373.83H104.35V372.61H104.82V371.31H105.29V370.89H105.76V368.83H106.23V366.56H106.7V368.15H107.17V366.93H107.64V368.21H108.11V365.36H108.58V364.43H109.05V362.34H109.52V364.66H109.99V363.12H110.46V361.71H110.93V362.34H111.4V360.19H111.87V361.25H112.34V357.92H112.81V357.81H113.28V358.77H113.75V358.48H114.22V357.93H114.69V355.85H115.16V355H115.63V355.34H116.1V354.85H116.57V354.63H117.04V351.1H117.51V357.54H117.98V356.98H118.45V358.64H118.92V357.83H119.39V360.01H119.86V357.03H120.33V357.87H120.8V358.57H121.27V358.97H121.74V358.69H122.21V358.25H122.68V356.75H123.15V355.95H123.62V352.37H124.09V352.14H124.56V347.35H125.03V352.42H125.5V345.91H125.97V345.55H126.44V338.71H126.91V342H127.38V335.76H127.85V341.14H128.31V331.86H128.78V331.87H129.25V329.73H129.72V325.73H130.19V318.46H130.66V317.59H131.13V323.52H131.6V308.84H132.07V306.23H132.54V307.24H133.01V301.9H133.48V305.04H133.95V303.98H134.42V311.05H134.89V317.35H135.36V316.66H135.83V324.49H136.3V324.63H136.77V328.6H137.24V329.48H137.71V326.15H138.18V332.54H138.65V334.17H139.12V331.81H139.59V332.92H140.06V330.36H140.53V330.42H141V332.05H141.47V333.88H141.94V336.85H142.41V340.52H142.88V348.84H143.35V360.27H143.82V366.36H144.29V371.73H144.76V376.23H145.23V379.17H145.7V382.58H146.17V384.54H146.64V384.85H147.11V384.86H147.58V385.5H148.05V385.9H148.52V385.99H148.99V386.01H149.46V386.8H149.93V387.22H150.4V386.97H150.87V386.79H151.34V387.55H151.81V386.46H152.27V387.16H152.74V386.65H153.21V386.96H153.68V387.08H154.15V386.46H154.62V387.37H155.09V387.28H155.56V387.05H156.03V386.99H156.5V387.13H156.97V387.62H157.44V386.94H157.91V387.09H158.38V386.49H158.85V387.53H159.32V387.42H159.79V387.6H160.26V388.17H160.73V387.55H161.2V387.25H161.67V387.89H162.14V387.86H162.61V388.19H163.08V387.14H163.55V387.96H164.02V387.46H164.49V388.27H164.96V387.73H165.43V388.13H165.9V388.92H166.37V387.91H166.84V387.68H167.31V388.75H167.78V388.08H168.25V388.19H168.72V388.57H169.19V388.18H169.66V388.91H170.13V388.14H170.6V387.72H171.07V388.72H171.54V388.37H172.01V387.71H172.48V388.24H172.95V388.62H173.42V388.72H173.89V388.24H174.36V388.33H174.83V388.12H175.3V388.91H175.77V387.85H176.23V389.5Z" fill="#51a9dc"/>
<path d="M56.2 389.5V389.5H56.43V389.5H56.9V389.5H57.37V389.5H57.84V389.5H58.31V389.5H58.78V371.9H59.25V336.97H59.72V301.9H60.19V301.9H60.66V301.9H61.13V301.9H61.6V301.9H62.07V301.9H62.54V301.9H63.01V303.11H63.48V333.01H63.95V356.39H64.42V365.48H64.89V369.89H65.36V376.21H65.83V378.34H66.3V378.71H66.77V380.24H67.24V381.38H67.71V381.31H68.18V381.5H68.65V381.09H69.12V381.48H69.59V381.31H70.06V381.18H70.53V381.41H71V381.05H71.47V380.82H71.94V381.54H72.41V381.14H72.88V381.48H73.35V380.32H73.82V381.73H74.29V382.01H74.76V382.53H75.23V382.02H75.7V381.96H76.17V384.21H76.64V382.92H77.11V384.22H77.58V382.65H78.05V383.89H78.52V384.46H78.99V383.89H79.46V382.78H79.93V382.97H80.39V383.62H80.86V383.77H81.33V384.05H81.8V383.15H82.27V384.19H82.74V384.18H83.21V384.3H83.68V384.33H84.15V383.24H84.62V383.35H85.09V383.49H85.56V383.71H86.03V383.22H86.5V382.74H86.97V383.38H87.44V383.72H87.91V383.95H88.38V383.19H88.85V383.96H89.32V384.5H89.79V384.6H90.26V384.66H90.73V384.18H91.2V384.29H91.67V385.22H92.14V386.1H92.61V385.36H93.08V386.1H93.55V384.73H94.02V384.43H94.49V384.42H94.96V384.85H95.43V384.04H95.9V383.06H96.37V383.4H96.84V382.41H97.31V382.02H97.78V381.9H98.25V381.81H98.72V381.23H99.19V380.58H99.66V379.79H100.13V379.31H100.6V378.6H101.07V377.61H101.54V378H102.01V377.16H102.48V376.2H102.95V375.83H103.42V374.65H103.89V373.83H104.35V372.61H104.82V371.31H105.29V370.89H105.76V368.83H106.23V366.56H106.7V368.15H107.17V366.93H107.64V368.21H108.11V365.36H108.58V364.43H109.05V362.34H109.52V364.66H109.99V363.12H110.46V361.71H110.93V362.34H111.4V360.19H111.87V361.25H112.34V357.92H112.81V357.81H113.28V358.77H113.75V358.48H114.22V357.93H114.69V355.85H115.16V355H115.63V355.34H116.1V354.85H116.57V354.63H117.04V351.1H117.51V357.54H117.98V356.98H118.45V358.64H118.92V357.83H119.39V360.01H119.86V357.03H120.33V357.87H120.8V358.57H121.27V358.97H121.74V358.69H122.21V358.25H122.68V356.75H123.15V355.95H123.62V352.37H124.09V352.14H124.56V347.35H125.03V352.42H125.5V345.91H125.97V345.55H126.44V338.71H126.91V342H127.38V335.76H127.85V341.14H128.31V331.86H128.78V331.87H129.25V329.73H129.72V325.73H130.19V318.46H130.66V317.59H131.13V323.52H131.6V308.84H132.07V306.23H132.54V307.24H133.01V301.9H133.48V305.04H133.95V303.98H134.42V311.05H134.89V317.35H135.36V316.66H135.83V324.49H136.3V324.63H136.77V328.6H137.24V329.48H137.71V326.15H138.18V332.54H138.65V334.17H139.12V331.81H139.59V332.92H140.06V330.36H140.53V330.42H141V332.05H141.47V333.88H141.94V336.85H142.41V340.52H142.88V348.84H143.35V360.27H143.82V366.36H144.29V371.73H144.76V376.23H145.23V379.17H145.7V382.58H146.17V384.54H146.64V384.85H147.11V384.86H147.58V385.5H148.05V385.9H148.52V385.99H148.99V386.01H149.46V386.8H149.93V387.22H150.4V386.97H150.87V386.79H151.34V387.55H151.81V386.46H152.27V387.16H152.74V386.65H153.21V386.96H153.68V387.08H154.15V386.46H154.62V387.37H155.09V387.28H155.56V387.05H156.03V386.99H156.5V387.13H156.97V387.62H157.44V386.94H157.91V387.09H158.38V386.49H158.85V387.53H159.32V387.42H159.79V387.6H160.26V388.17H160.73V387.55H161.2V387.25H161.67V387.89H162.14V387.86H162.61V388.19H163.08V387.14H163.55V387.96H164.02V387.46H164.49V388.27H164.96V387.73H165.43V388.13H165.9V388.92H166.37V387.91H166.84V387.68H167.31V388.75H167.78V388.08H168.25V388.19H168.72V388.57H169.19V388.18H169.66V388.91H170.13V388.14H170.6V387.72H171.07V388.72H171.54V388.37H172.01V387.71H172.48V388.24H172.95V388.62H173.42V388.72H173.89V388.24H174.36V388.33H174.83V388.12H175.3V388.91H175.77V387.85H176.23V389.5Z" fill="url(#sb)"/>
<rect x="56.2" y="389.5" width="119.8" height="7.1" fill="url(#gr)" stroke="#666" stroke-width="0.35"/>
<rect x="56.2" y="301.9" width="119.8" height="87.6" fill="none" stroke="#808080" stroke-width="0.38"/>
<text x="54" y="391.05" font-family="Liberation Sans, Arial, Helvetica, sans-serif" font-size="3.4" text-anchor="end" fill="#5a5a5a">0</text>
<text x="54" y="382.63" font-family="Liberation Sans, Arial, Helvetica, sans-serif" font-size="3.4" text-anchor="end" fill="#5a5a5a">100</text>
<text x="54" y="374.21" font-family="Liberation Sans, Arial, Helvetica, sans-serif" font-size="3.4" text-anchor="end" fill="#5a5a5a">200</text>
<text x="54" y="365.78" font-family="Liberation Sans, Arial, Helvetica, sans-serif" font-size="3.4" text-anchor="end" fill="#5a5a5a">300</text>
<text x="54" y="357.36" font-family="Liberation Sans, Arial, Helvetica, sans-serif" font-size="3.4" text-anchor="end" fill="#5a5a5a">400</text>
<text x="54" y="348.94" font-family="Liberation Sans, Arial, Helvetica, sans-serif" font-size="3.4" text-anchor="end" fill="#5a5a5a">500</text>
<text x="54" y="340.52" font-family="Liberation Sans, Arial, Helvetica, sans-serif" font-size="3.4" text-anchor="end" fill="#5a5a5a">600</text>
<text x="54" y="332.09" font-family="Liberation Sans, Arial, Helvetica, sans-serif" font-size="3.4" text-anchor="end" fill="#5a5a5a">700</text>
<text x="54" y="323.67" font-family="Liberation Sans, Arial, Helvetica, sans-serif" font-size="3.4" text-anchor="end" fill="#5a5a5a">800</text>
<text x="54" y="315.25" font-family="Liberation Sans, Arial, Helvetica, sans-serif" font-size="3.4" text-anchor="end" fill="#5a5a5a">900</text>
<text x="54" y="306.83" font-family="Liberation Sans, Arial, Helvetica, sans-serif" font-size="3.4" text-anchor="end" fill="#5a5a5a">1000</text>
<text x="56.2" y="402.5" font-family="Liberation Sans, Arial, Helvetica, sans-serif" font-size="3.4" text-anchor="middle" fill="#5a5a5a">0</text>
<text x="79.69" y="402.5" font-family="Liberation Sans, Arial, Helvetica, sans-serif" font-size="3.4" text-anchor="middle" fill="#5a5a5a">50</text>
<text x="103.18" y="402.5" font-family="Liberation Sans, Arial, Helvetica, sans-serif" font-size="3.4" text-anchor="middle" fill="#5a5a5a">100</text>
<text x="126.67" y="402.5" font-family="Liberation Sans, Arial, Helvetica, sans-serif" font-size="3.4" text-anchor="middle" fill="#5a5a5a">150</text>
<text x="150.16" y="402.5" font-family="Liberation Sans, Arial, Helvetica, sans-serif" font-size="3.4" text-anchor="middle" fill="#5a5a5a">200</text>
<text x="173.65" y="402.5" font-family="Liberation Sans, Arial, Helvetica, sans-serif" font-size="3.4" text-anchor="middle" fill="#5a5a5a">250</text>
<path d="M56.2 389.5h1.2M176 389.5h-1.2M56.2 381.08h1.2M176 381.08h-1.2M56.2 372.66h1.2M176 372.66h-1.2M56.2 364.23h1.2M176 364.23h-1.2M56.2 355.81h1.2M176 355.81h-1.2M56.2 347.39h1.2M176 347.39h-1.2M56.2 338.97h1.2M176 338.97h-1.2M56.2 330.54h1.2M176 330.54h-1.2M56.2 322.12h1.2M176 322.12h-1.2M56.2 313.7h1.2M176 313.7h-1.2M56.2 305.28h1.2M176 305.28h-1.2M56.2 301.9v1.2M56.2 389.5v-1.2M56.2 396.6v-1.2M79.69 301.9v1.2M79.69 389.5v-1.2M79.69 396.6v-1.2M103.18 301.9v1.2M103.18 389.5v-1.2M103.18 396.6v-1.2M126.67 301.9v1.2M126.67 389.5v-1.2M126.67 396.6v-1.2M150.16 301.9v1.2M150.16 389.5v-1.2M150.16 396.6v-1.2M173.65 301.9v1.2M173.65 389.5v-1.2M173.65 396.6v-1.2" stroke="#666" stroke-width="0.35" fill="none"/>
<rect x="197.75" y="293.35" width="154.6" height="115.6" rx="1.1" fill="#fff" stroke="#484848" stroke-width="1.45"/>
<path d="M217.3 389.5V352.92H217.53V354.22H218V349.07H218.47V353.01H218.94V351.64H219.41V355.38H219.88V353.32H220.35V352.89H220.82V352.54H221.29V353.13H221.76V354.23H222.23V357.87H222.7V353.92H223.17V354H223.64V352.8H224.11V351.37H224.58V349.23H225.05V351.23H225.52V350.72H225.99V351.84H226.46V351.88H226.93V351.7H227.4V352.69H227.87V353.25H228.34V352.06H228.81V349.66H229.28V351.02H229.75V349.42H230.22V354.96H230.69V352.08H231.16V351.81H231.63V351.74H232.1V355.07H232.57V355.32H233.04V355.98H233.51V352.97H233.98V348.21H234.45V352.28H234.92V354.42H235.39V352.12H235.86V353.12H236.33V352.23H236.8V353.42H237.27V355.2H237.74V353.13H238.21V351.45H238.68V352.5H239.15V351.29H239.62V354.5H240.09V350.83H240.56V352.38H241.03V352.14H241.49V350.83H241.96V352.84H242.43V352.81H242.9V351.73H243.37V351.53H243.84V351.68H244.31V350.79H244.78V351.99H245.25V353.59H245.72V348.65H246.19V353.57H246.66V352.41H247.13V355.09H247.6V357.4H248.07V355.33H248.54V353.95H249.01V353.49H249.48V354.18H249.95V353.27H250.42V352.53H250.89V353.2H251.36V355.07H251.83V354.94H252.3V355.5H252.77V356.8H253.24V353.6H253.71V357.66H254.18V355.68H254.65V355.12H255.12V358.88H255.59V354.74H256.06V356.29H256.53V355.78H257V356.48H257.47V358.04H257.94V355.61H258.41V355.75H258.88V354.97H259.35V355.66H259.82V359.19H260.29V354.52H260.76V355.33H261.23V355.61H261.7V355.79H262.17V357.35H262.64V356.17H263.11V357.28H263.58V351.78H264.05V356.66H264.52V357.98H264.99V357.26H265.45V353.72H265.92V356.86H266.39V359.73H266.86V354.39H267.33V355.62H267.8V356.68H268.27V355.27H268.74V357.68H269.21V358.11H269.68V354.63H270.15V357.05H270.62V355.49H271.09V356.57H271.56V355.39H272.03V355.76H272.5V358.8H272.97V354.9H273.44V356.47H273.91V354.96H274.38V355.97H274.85V353.89H275.32V356.63H275.79V358.73H276.26V356.94H276.73V355.47H277.2V356.69H277.67V356.96H278.14V353.62H278.61V356.82H279.08V354.15H279.55V355.56H280.02V358.11H280.49V357.05H280.96V355.84H281.43V355.48H281.9V357.01H282.37V358H282.84V357.35H283.31V356.88H283.78V357.48H284.25V356.65H284.72V353.27H285.19V355.25H285.66V356.93H286.13V356.04H286.6V353.42H287.07V354.89H287.54V356.07H288.01V357.61H288.48V358.41H288.95V356.3H289.41V356.53H289.88V358.12H290.35V358.23H290.82V355.97H291.29V358.71H291.76V357.91H292.23V355.96H292.7V355.25H293.17V355.16H293.64V354.33H294.11V353.24H294.58V354.72H295.05V355.8H295.52V352.04H295.99V353.52H296.46V354.45H296.93V357.08H297.4V354.83H297.87V359.35H298.34V356.07H298.81V359.46H299.28V356.45H299.75V353.74H300.22V355.9H300.69V353.2H301.16V355.42H301.63V354.76H302.1V355.58H302.57V354.32H303.04V354.74H303.51V352.98H303.98V352.28H304.45V354.03H304.92V356.11H305.39V352.72H305.86V352.39H306.33V353.03H306.8V353.62H307.27V352.52H307.74V351.33H308.21V357.73H308.68V351.03H309.15V352.49H309.62V353.03H310.09V354.35H310.56V353.2H311.03V352.62H311.5V355.63H311.97V352.48H312.44V353.41H312.91V350.68H313.37V352.16H313.84V353.3H314.31V353.3H314.78V351.88H315.25V353.03H315.72V351.77H316.19V353.94H316.66V354.87H317.13V353.43H317.6V355.12H318.07V354.28H318.54V351.83H319.01V355.44H319.48V354.55H319.95V351.62H320.42V353.43H320.89V353.14H321.36V355.27H321.83V355.01H322.3V353.21H322.77V350.79H323.24V352.7H323.71V356.08H324.18V352.17H324.65V351.35H325.12V352.08H325.59V354.79H326.06V353.03H326.53V349.22H327V354.3H327.47V352.68H327.94V354.22H328.41V355.18H328.88V353.65H329.35V351.35H329.82V351.19H330.29V354.32H330.76V353.81H331.23V354.29H331.7V356.41H332.17V352.05H332.64V350.18H333.11V350.25H333.58V353.37H334.05V350.58H334.52V351.17H334.99V353.39H335.46V352.83H335.93V353.93H336.4V352.74H336.87V349.41H337.33V389.5Z" fill="#51a9dc"/>
<path d="M217.3 389.5V352.92H217.53V354.22H218V349.07H218.47V353.01H218.94V351.64H219.41V355.38H219.88V353.32H220.35V352.89H220.82V352.54H221.29V353.13H221.76V354.23H222.23V357.87H222.7V353.92H223.17V354H223.64V352.8H224.11V351.37H224.58V349.23H225.05V351.23H225.52V350.72H225.99V351.84H226.46V351.88H226.93V351.7H227.4V352.69H227.87V353.25H228.34V352.06H228.81V349.66H229.28V351.02H229.75V349.42H230.22V354.96H230.69V352.08H231.16V351.81H231.63V351.74H232.1V355.07H232.57V355.32H233.04V355.98H233.51V352.97H233.98V348.21H234.45V352.28H234.92V354.42H235.39V352.12H235.86V353.12H236.33V352.23H236.8V353.42H237.27V355.2H237.74V353.13H238.21V351.45H238.68V352.5H239.15V351.29H239.62V354.5H240.09V350.83H240.56V352.38H241.03V352.14H241.49V350.83H241.96V352.84H242.43V352.81H242.9V351.73H243.37V351.53H243.84V351.68H244.31V350.79H244.78V351.99H245.25V353.59H245.72V348.65H246.19V353.57H246.66V352.41H247.13V355.09H247.6V357.4H248.07V355.33H248.54V353.95H249.01V353.49H249.48V354.18H249.95V353.27H250.42V352.53H250.89V353.2H251.36V355.07H251.83V354.94H252.3V355.5H252.77V356.8H253.24V353.6H253.71V357.66H254.18V355.68H254.65V355.12H255.12V358.88H255.59V354.74H256.06V356.29H256.53V355.78H257V356.48H257.47V358.04H257.94V355.61H258.41V355.75H258.88V354.97H259.35V355.66H259.82V359.19H260.29V354.52H260.76V355.33H261.23V355.61H261.7V355.79H262.17V357.35H262.64V356.17H263.11V357.28H263.58V351.78H264.05V356.66H264.52V357.98H264.99V357.26H265.45V353.72H265.92V356.86H266.39V359.73H266.86V354.39H267.33V355.62H267.8V356.68H268.27V355.27H268.74V357.68H269.21V358.11H269.68V354.63H270.15V357.05H270.62V355.49H271.09V356.57H271.56V355.39H272.03V355.76H272.5V358.8H272.97V354.9H273.44V356.47H273.91V354.96H274.38V355.97H274.85V353.89H275.32V356.63H275.79V358.73H276.26V356.94H276.73V355.47H277.2V356.69H277.67V356.96H278.14V353.62H278.61V356.82H279.08V354.15H279.55V355.56H280.02V358.11H280.49V357.05H280.96V355.84H281.43V355.48H281.9V357.01H282.37V358H282.84V357.35H283.31V356.88H283.78V357.48H284.25V356.65H284.72V353.27H285.19V355.25H285.66V356.93H286.13V356.04H286.6V353.42H287.07V354.89H287.54V356.07H288.01V357.61H288.48V358.41H288.95V356.3H289.41V356.53H289.88V358.12H290.35V358.23H290.82V355.97H291.29V358.71H291.76V357.91H292.23V355.96H292.7V355.25H293.17V355.16H293.64V354.33H294.11V353.24H294.58V354.72H295.05V355.8H295.52V352.04H295.99V353.52H296.46V354.45H296.93V357.08H297.4V354.83H297.87V359.35H298.34V356.07H298.81V359.46H299.28V356.45H299.75V353.74H300.22V355.9H300.69V353.2H301.16V355.42H301.63V354.76H302.1V355.58H302.57V354.32H303.04V354.74H303.51V352.98H303.98V352.28H304.45V354.03H304.92V356.11H305.39V352.72H305.86V352.39H306.33V353.03H306.8V353.62H307.27V352.52H307.74V351.33H308.21V357.73H308.68V351.03H309.15V352.49H309.62V353.03H310.09V354.35H310.56V353.2H311.03V352.62H311.5V355.63H311.97V352.48H312.44V353.41H312.91V350.68H313.37V352.16H313.84V353.3H314.31V353.3H314.78V351.88H315.25V353.03H315.72V351.77H316.19V353.94H316.66V354.87H317.13V353.43H317.6V355.12H318.07V354.28H318.54V351.83H319.01V355.44H319.48V354.55H319.95V351.62H320.42V353.43H320.89V353.14H321.36V355.27H321.83V355.01H322.3V353.21H322.77V350.79H323.24V352.7H323.71V356.08H324.18V352.17H324.65V351.35H325.12V352.08H325.59V354.79H326.06V353.03H326.53V349.22H327V354.3H327.47V352.68H327.94V354.22H328.41V355.18H328.88V353.65H329.35V351.35H329.82V351.19H330.29V354.32H330.76V353.81H331.23V354.29H331.7V356.41H332.17V352.05H332.64V350.18H333.11V350.25H333.58V353.37H334.05V350.58H334.52V351.17H334.99V353.39H335.46V352.83H335.93V353.93H336.4V352.74H336.87V349.41H337.33V389.5Z" fill="url(#sb)"/>
<rect x="336.75" y="320.65" width="0.7" height="68.85" fill="#a9d4ef"/>
<rect x="217.3" y="389.5" width="120.1" height="7.1" fill="url(#gr)" stroke="#666" stroke-width="0.35"/>
<rect x="217.3" y="301.9" width="120.1" height="87.6" fill="none" stroke="#808080" stroke-width="0.38"/>
<text x="215.1" y="391.05" font-family="Liberation Sans, Arial, Helvetica, sans-serif" font-size="3.4" text-anchor="end" fill="#5a5a5a">0</text>
<text x="215.1" y="377.42" font-family="Liberation Sans, Arial, Helvetica, sans-serif" font-size="3.4" text-anchor="end" fill="#5a5a5a">100</text>
<text x="215.1" y="363.78" font-family="Liberation Sans, Arial, Helvetica, sans-serif" font-size="3.4" text-anchor="end" fill="#5a5a5a">200</text>
<text x="215.1" y="350.15" font-family="Liberation Sans, Arial, Helvetica, sans-serif" font-size="3.4" text-anchor="end" fill="#5a5a5a">300</text>
<text x="215.1" y="336.52" font-family="Liberation Sans, Arial, Helvetica, sans-serif" font-size="3.4" text-anchor="end" fill="#5a5a5a">400</text>
<text x="215.1" y="322.88" font-family="Liberation Sans, Arial, Helvetica, sans-serif" font-size="3.4" text-anchor="end" fill="#5a5a5a">500</text>
<text x="215.1" y="309.25" font-family="Liberation Sans, Arial, Helvetica, sans-serif" font-size="3.4" text-anchor="end" fill="#5a5a5a">600</text>
<text x="217.3" y="402.5" font-family="Liberation Sans, Arial, Helvetica, sans-serif" font-size="3.4" text-anchor="middle" fill="#5a5a5a">0</text>
<text x="240.79" y="402.5" font-family="Liberation Sans, Arial, Helvetica, sans-serif" font-size="3.4" text-anchor="middle" fill="#5a5a5a">50</text>
<text x="264.28" y="402.5" font-family="Liberation Sans, Arial, Helvetica, sans-serif" font-size="3.4" text-anchor="middle" fill="#5a5a5a">100</text>
<text x="287.77" y="402.5" font-family="Liberation Sans, Arial, Helvetica, sans-serif" font-size="3.4" text-anchor="middle" fill="#5a5a5a">150</text>
<text x="311.26" y="402.5" font-family="Liberation Sans, Arial, Helvetica, sans-serif" font-size="3.4" text-anchor="middle" fill="#5a5a5a">200</text>
<text x="334.75" y="402.5" font-family="Liberation Sans, Arial, Helvetica, sans-serif" font-size="3.4" text-anchor="middle" fill="#5a5a5a">250</text>
<path d="M217.3 389.5h1.2M337.4 389.5h-1.2M217.3 375.87h1.2M337.4 375.87h-1.2M217.3 362.23h1.2M337.4 362.23h-1.2M217.3 348.6h1.2M337.4 348.6h-1.2M217.3 334.97h1.2M337.4 334.97h-1.2M217.3 321.33h1.2M337.4 321.33h-1.2M217.3 307.7h1.2M337.4 307.7h-1.2M217.3 301.9v1.2M217.3 389.5v-1.2M217.3 396.6v-1.2M240.79 301.9v1.2M240.79 389.5v-1.2M240.79 396.6v-1.2M264.28 301.9v1.2M264.28 389.5v-1.2M264.28 396.6v-1.2M287.77 301.9v1.2M287.77 389.5v-1.2M287.77 396.6v-1.2M311.26 301.9v1.2M311.26 389.5v-1.2M311.26 396.6v-1.2M334.75 301.9v1.2M334.75 389.5v-1.2M334.75 396.6v-1.2" stroke="#666" stroke-width="0.35" fill="none"/>
<rect x="358.75" y="293.35" width="154.6" height="115.6" rx="1.1" fill="#fff" stroke="#484848" stroke-width="1.45"/>
<path d="M378.9 389.5V389.5H379.13V389.5H379.6V389.5H380.07V389.5H380.54V389.5H381.01V389.5H381.48V371.9H381.95V336.97H382.42V301.9H382.89V301.9H383.36V301.9H383.83V301.9H384.3V301.9H384.77V301.9H385.24V301.9H385.71V303.11H386.18V333.01H386.65V356.39H387.12V365.48H387.59V369.89H388.06V376.21H388.53V378.34H389V378.71H389.47V380.24H389.94V381.38H390.41V381.31H390.88V381.5H391.35V381.09H391.82V381.48H392.29V381.31H392.76V381.18H393.23V381.41H393.7V381.05H394.17V380.82H394.64V381.54H395.11V381.14H395.58V381.48H396.05V380.32H396.52V381.73H396.99V382.01H397.46V382.53H397.93V382.02H398.4V381.96H398.87V384.21H399.34V382.92H399.81V384.22H400.28V382.65H400.75V383.89H401.22V384.46H401.69V383.89H402.16V382.78H402.63V382.97H403.09V383.62H403.56V383.77H404.03V384.05H404.5V383.15H404.97V384.19H405.44V384.18H405.91V384.3H406.38V384.33H406.85V383.24H407.32V383.35H407.79V383.49H408.26V383.71H408.73V383.22H409.2V382.74H409.67V383.38H410.14V383.72H410.61V383.95H411.08V383.19H411.55V383.96H412.02V384.5H412.49V384.6H412.96V384.66H413.43V384.18H413.9V384.29H414.37V385.22H414.84V386.1H415.31V385.36H415.78V386.1H416.25V384.73H416.72V384.43H417.19V384.42H417.66V384.85H418.13V384.04H418.6V383.06H419.07V383.4H419.54V382.41H420.01V382.02H420.48V381.9H420.95V381.81H421.42V381.23H421.89V380.58H422.36V379.79H422.83V379.31H423.3V378.6H423.77V377.61H424.24V378H424.71V377.16H425.18V376.2H425.65V375.83H426.12V374.65H426.59V373.83H427.05V372.61H427.52V371.31H427.99V370.89H428.46V368.83H428.93V366.56H429.4V368.15H429.87V366.93H430.34V368.21H430.81V365.36H431.28V364.43H431.75V362.34H432.22V364.66H432.69V363.12H433.16V361.71H433.63V362.34H434.1V360.19H434.57V361.25H435.04V357.92H435.51V357.81H435.98V358.77H436.45V358.48H436.92V357.93H437.39V355.85H437.86V355H438.33V355.34H438.8V354.85H439.27V354.63H439.74V351.1H440.21V357.54H440.68V356.98H441.15V358.64H441.62V357.83H442.09V360.01H442.56V357.03H443.03V357.87H443.5V358.57H443.97V358.97H444.44V358.69H444.91V358.25H445.38V356.75H445.85V355.95H446.32V352.37H446.79V352.14H447.26V347.35H447.73V352.42H448.2V345.91H448.67V345.55H449.14V338.71H449.61V342H450.08V335.76H450.55V341.14H451.01V331.86H451.48V331.87H451.95V329.73H452.42V325.73H452.89V318.46H453.36V317.59H453.83V323.52H454.3V308.84H454.77V306.23H455.24V307.24H455.71V301.9H456.18V305.04H456.65V303.98H457.12V311.05H457.59V317.35H458.06V316.66H458.53V324.49H459V324.63H459.47V328.6H459.94V329.48H460.41V326.15H460.88V332.54H461.35V334.17H461.82V331.81H462.29V332.92H462.76V330.36H463.23V330.42H463.7V332.05H464.17V333.88H464.64V336.85H465.11V340.52H465.58V348.84H466.05V360.27H466.52V366.36H466.99V371.73H467.46V376.23H467.93V379.17H468.4V382.58H468.87V384.54H469.34V384.85H469.81V384.86H470.28V385.5H470.75V385.9H471.22V385.99H471.69V386.01H472.16V386.8H472.63V387.22H473.1V386.97H473.57V386.79H474.04V387.55H474.51V386.46H474.97V387.16H475.44V386.65H475.91V386.96H476.38V387.08H476.85V386.46H477.32V387.37H477.79V387.28H478.26V387.05H478.73V386.99H479.2V387.13H479.67V387.62H480.14V386.94H480.61V387.09H481.08V386.49H481.55V387.53H482.02V387.42H482.49V387.6H482.96V388.17H483.43V387.55H483.9V387.25H484.37V387.89H484.84V387.86H485.31V388.19H485.78V387.14H486.25V387.96H486.72V387.46H487.19V388.27H487.66V387.73H488.13V388.13H488.6V388.92H489.07V387.91H489.54V387.68H490.01V388.75H490.48V388.08H490.95V388.19H491.42V388.57H491.89V388.18H492.36V388.91H492.83V388.14H493.3V387.72H493.77V388.72H494.24V388.37H494.71V387.71H495.18V388.24H495.65V388.62H496.12V388.72H496.59V388.24H497.06V388.33H497.53V388.12H498V388.91H498.47V387.85H498.93V389.5Z" fill="#51a9dc"/>
<path d="M378.9 389.5V389.5H379.13V389.5H379.6V389.5H380.07V389.5H380.54V389.5H381.01V389.5H381.48V371.9H381.95V336.97H382.42V301.9H382.89V301.9H383.36V301.9H383.83V301.9H384.3V301.9H384.77V301.9H385.24V301.9H385.71V303.11H386.18V333.01H386.65V356.39H387.12V365.48H387.59V369.89H388.06V376.21H388.53V378.34H389V378.71H389.47V380.24H389.94V381.38H390.41V381.31H390.88V381.5H391.35V381.09H391.82V381.48H392.29V381.31H392.76V381.18H393.23V381.41H393.7V381.05H394.17V380.82H394.64V381.54H395.11V381.14H395.58V381.48H396.05V380.32H396.52V381.73H396.99V382.01H397.46V382.53H397.93V382.02H398.4V381.96H398.87V384.21H399.34V382.92H399.81V384.22H400.28V382.65H400.75V383.89H401.22V384.46H401.69V383.89H402.16V382.78H402.63V382.97H403.09V383.62H403.56V383.77H404.03V384.05H404.5V383.15H404.97V384.19H405.44V384.18H405.91V384.3H406.38V384.33H406.85V383.24H407.32V383.35H407.79V383.49H408.26V383.71H408.73V383.22H409.2V382.74H409.67V383.38H410.14V383.72H410.61V383.95H411.08V383.19H411.55V383.96H412.02V384.5H412.49V384.6H412.96V384.66H413.43V384.18H413.9V384.29H414.37V385.22H414.84V386.1H415.31V385.36H415.78V386.1H416.25V384.73H416.72V384.43H417.19V384.42H417.66V384.85H418.13V384.04H418.6V383.06H419.07V383.4H419.54V382.41H420.01V382.02H420.48V381.9H420.95V381.81H421.42V381.23H421.89V380.58H422.36V379.79H422.83V379.31H423.3V378.6H423.77V377.61H424.24V378H424.71V377.16H425.18V376.2H425.65V375.83H426.12V374.65H426.59V373.83H427.05V372.61H427.52V371.31H427.99V370.89H428.46V368.83H428.93V366.56H429.4V368.15H429.87V366.93H430.34V368.21H430.81V365.36H431.28V364.43H431.75V362.34H432.22V364.66H432.69V363.12H433.16V361.71H433.63V362.34H434.1V360.19H434.57V361.25H435.04V357.92H435.51V357.81H435.98V358.77H436.45V358.48H436.92V357.93H437.39V355.85H437.86V355H438.33V355.34H438.8V354.85H439.27V354.63H439.74V351.1H440.21V357.54H440.68V356.98H441.15V358.64H441.62V357.83H442.09V360.01H442.56V357.03H443.03V357.87H443.5V358.57H443.97V358.97H444.44V358.69H444.91V358.25H445.38V356.75H445.85V355.95H446.32V352.37H446.79V352.14H447.26V347.35H447.73V352.42H448.2V345.91H448.67V345.55H449.14V338.71H449.61V342H450.08V335.76H450.55V341.14H451.01V331.86H451.48V331.87H451.95V329.73H452.42V325.73H452.89V318.46H453.36V317.59H453.83V323.52H454.3V308.84H454.77V306.23H455.24V307.24H455.71V301.9H456.18V305.04H456.65V303.98H457.12V311.05H457.59V317.35H458.06V316.66H458.53V324.49H459V324.63H459.47V328.6H459.94V329.48H460.41V326.15H460.88V332.54H461.35V334.17H461.82V331.81H462.29V332.92H462.76V330.36H463.23V330.42H463.7V332.05H464.17V333.88H464.64V336.85H465.11V340.52H465.58V348.84H466.05V360.27H466.52V366.36H466.99V371.73H467.46V376.23H467.93V379.17H468.4V382.58H468.87V384.54H469.34V384.85H469.81V384.86H470.28V385.5H470.75V385.9H471.22V385.99H471.69V386.01H472.16V386.8H472.63V387.22H473.1V386.97H473.57V386.79H474.04V387.55H474.51V386.46H474.97V387.16H475.44V386.65H475.91V386.96H476.38V387.08H476.85V386.46H477.32V387.37H477.79V387.28H478.26V387.05H478.73V386.99H479.2V387.13H479.67V387.62H480.14V386.94H480.61V387.09H481.08V386.49H481.55V387.53H482.02V387.42H482.49V387.6H482.96V388.17H483.43V387.55H483.9V387.25H484.37V387.89H484.84V387.86H485.31V388.19H485.78V387.14H486.25V387.96H486.72V387.46H487.19V388.27H487.66V387.73H488.13V388.13H488.6V388.92H489.07V387.91H489.54V387.68H490.01V388.75H490.48V388.08H490.95V388.19H491.42V388.57H491.89V388.18H492.36V388.91H492.83V388.14H493.3V387.72H493.77V388.72H494.24V388.37H494.71V387.71H495.18V388.24H495.65V388.62H496.12V388.72H496.59V388.24H497.06V388.33H497.53V388.12H498V388.91H498.47V387.85H498.93V389.5Z" fill="url(#sb)"/>
<rect x="378.9" y="389.5" width="119.8" height="7.1" fill="url(#gr)" stroke="#666" stroke-width="0.35"/>
<rect x="378.9" y="301.9" width="119.8" height="87.6" fill="none" stroke="#808080" stroke-width="0.38"/>
<text x="376.7" y="391.05" font-family="Liberation Sans, Arial, Helvetica, sans-serif" font-size="3.4" text-anchor="end" fill="#5a5a5a">0</text>
<text x="376.7" y="382.63" font-family="Liberation Sans, Arial, Helvetica, sans-serif" font-size="3.4" text-anchor="end" fill="#5a5a5a">100</text>
<text x="376.7" y="374.21" font-family="Liberation Sans, Arial, Helvetica, sans-serif" font-size="3.4" text-anchor="end" fill="#5a5a5a">200</text>
<text x="376.7" y="365.78" font-family="Liberation Sans, Arial, Helvetica, sans-serif" font-size="3.4" text-anchor="end" fill="#5a5a5a">300</text>
<text x="376.7" y="357.36" font-family="Liberation Sans, Arial, Helvetica, sans-serif" font-size="3.4" text-anchor="end" fill="#5a5a5a">400</text>
<text x="376.7" y="348.94" font-family="Liberation Sans, Arial, Helvetica, sans-serif" font-size="3.4" text-anchor="end" fill="#5a5a5a">500</text>
<text x="376.7" y="340.52" font-family="Liberation Sans, Arial, Helvetica, sans-serif" font-size="3.4" text-anchor="end" fill="#5a5a5a">600</text>
<text x="376.7" y="332.09" font-family="Liberation Sans, Arial, Helvetica, sans-serif" font-size="3.4" text-anchor="end" fill="#5a5a5a">700</text>
<text x="376.7" y="323.67" font-family="Liberation Sans, Arial, Helvetica, sans-serif" font-size="3.4" text-anchor="end" fill="#5a5a5a">800</text>
<text x="376.7" y="315.25" font-family="Liberation Sans, Arial, Helvetica, sans-serif" font-size="3.4" text-anchor="end" fill="#5a5a5a">900</text>
<text x="376.7" y="306.83" font-family="Liberation Sans, Arial, Helvetica, sans-serif" font-size="3.4" text-anchor="end" fill="#5a5a5a">1000</text>
<text x="378.9" y="402.5" font-family="Liberation Sans, Arial, Helvetica, sans-serif" font-size="3.4" text-anchor="middle" fill="#5a5a5a">0</text>
<text x="402.39" y="402.5" font-family="Liberation Sans, Arial, Helvetica, sans-serif" font-size="3.4" text-anchor="middle" fill="#5a5a5a">50</text>
<text x="425.88" y="402.5" font-family="Liberation Sans, Arial, Helvetica, sans-serif" font-size="3.4" text-anchor="middle" fill="#5a5a5a">100</text>
<text x="449.37" y="402.5" font-family="Liberation Sans, Arial, Helvetica, sans-serif" font-size="3.4" text-anchor="middle" fill="#5a5a5a">150</text>
<text x="472.86" y="402.5" font-family="Liberation Sans, Arial, Helvetica, sans-serif" font-size="3.4" text-anchor="middle" fill="#5a5a5a">200</text>
<text x="496.35" y="402.5" font-family="Liberation Sans, Arial, Helvetica, sans-serif" font-size="3.4" text-anchor="middle" fill="#5a5a5a">250</text>
<path d="M378.9 389.5h1.2M498.7 389.5h-1.2M378.9 381.08h1.2M498.7 381.08h-1.2M378.9 372.66h1.2M498.7 372.66h-1.2M378.9 364.23h1.2M498.7 364.23h-1.2M378.9 355.81h1.2M498.7 355.81h-1.2M378.9 347.39h1.2M498.7 347.39h-1.2M378.9 338.97h1.2M498.7 338.97h-1.2M378.9 330.54h1.2M498.7 330.54h-1.2M378.9 322.12h1.2M498.7 322.12h-1.2M378.9 313.7h1.2M498.7 313.7h-1.2M378.9 305.28h1.2M498.7 305.28h-1.2M378.9 301.9v1.2M378.9 389.5v-1.2M378.9 396.6v-1.2M402.39 301.9v1.2M402.39 389.5v-1.2M402.39 396.6v-1.2M425.88 301.9v1.2M425.88 389.5v-1.2M425.88 396.6v-1.2M449.37 301.9v1.2M449.37 389.5v-1.2M449.37 396.6v-1.2M472.86 301.9v1.2M472.86 389.5v-1.2M472.86 396.6v-1.2M496.35 301.9v1.2M496.35 389.5v-1.2M496.35 396.6v-1.2" stroke="#666" stroke-width="0.35" fill="none"/>
<rect x="36.05" y="422.25" width="154.6" height="116" rx="1.1" fill="#fff" stroke="#484848" stroke-width="1.45"/>
<path d="M56.2 518.4V518.4H56.43V518.4H56.9V518.4H57.37V518.4H57.84V518.4H58.31V518.4H58.78V518.4H59.25V518.4H59.72V518.4H60.19V518.4H60.66V518.4H61.13V516.34H61.6V512.06H62.07V504.01H62.54V497.75H63.01V488.74H63.48V482.27H63.95V476.27H64.42V473.18H64.89V484.01H65.36V474.21H65.83V478.4H66.3V484.09H66.77V475.63H67.24V477.31H67.71V474.38H68.18V481.06H68.65V469.98H69.12V477.14H69.59V479.7H70.06V476.34H70.53V478.96H71V481.82H71.47V481.59H71.94V492.48H72.41V484.78H72.88V489.44H73.35V488.45H73.82V486.99H74.29V490.75H74.76V491.21H75.23V489.19H75.7V492.73H76.17V489.58H76.64V495.04H77.11V494.72H77.58V495.22H78.05V492.73H78.52V487.2H78.99V494.15H79.46V493.97H79.93V494.39H80.39V492.41H80.86V493.71H81.33V496.32H81.8V494.15H82.27V492.37H82.74V494.79H83.21V498.86H83.68V496.72H84.15V492.68H84.62V498.15H85.09V494.93H85.56V494.52H86.03V494.24H86.5V493.44H86.97V492.7H87.44V491H87.91V492.15H88.38V492.51H88.85V485.63H89.32V488.32H89.79V488.51H90.26V489.8H90.73V492.08H91.2V488.48H91.67V488.37H92.14V487.17H92.61V488.56H93.08V491.45H93.55V488.84H94.02V486.56H94.49V481.11H94.96V483.48H95.43V486.78H95.9V486.25H96.37V483.97H96.84V481.57H97.31V485.31H97.78V487.58H98.25V480.13H98.72V479.63H99.19V479.19H99.66V477.66H100.13V473.06H100.6V479.25H101.07V477.73H101.54V472.94H102.01V480.56H102.48V471.94H102.95V475.89H103.42V475.59H103.89V471.41H104.35V462.74H104.82V470.76H105.29V461.02H105.76V463.89H106.23V470.44H106.7V464.18H107.17V470.68H107.64V474.53H108.11V472.55H108.58V474.42H109.05V471.86H109.52V475.97H109.99V470.15H110.46V475.64H110.93V478.37H111.4V480.1H111.87V476.05H112.34V483.55H112.81V483.46H113.28V477.33H113.75V474.76H114.22V475.67H114.69V475.61H115.16V476.46H115.63V482.3H116.1V474.97H116.57V478.85H117.04V473.56H117.51V473.44H117.98V473.4H118.45V471.57H118.92V469.83H119.39V471.99H119.86V470.8H120.33V475.34H120.8V477.92H121.27V472.04H121.74V470.08H122.21V471.22H122.68V476.05H123.15V473.58H123.62V475.89H124.09V474.49H124.56V479.8H125.03V478.63H125.5V471.31H125.97V478.08H126.44V477.02H126.91V482.55H127.38V484.02H127.85V482.66H128.31V479.96H128.78V481.69H129.25V479.44H129.72V482.03H130.19V478.23H130.66V479.13H131.13V484.17H131.6V479.82H132.07V481.05H132.54V477.74H133.01V482.42H133.48V479H133.95V478.62H134.42V487.34H134.89V484.32H135.36V477.5H135.83V478.54H136.3V474.19H136.77V475.87H137.24V480.66H137.71V475.57H138.18V478.08H138.65V474.73H139.12V474.11H139.59V469.74H140.06V476.98H140.53V473.1H141V475.67H141.47V457.91H141.94V469.84H142.41V468.94H142.88V470.68H143.35V467.55H143.82V467.21H144.29V463.35H144.76V465.08H145.23V465.53H145.7V468.18H146.17V467.23H146.64V463.78H147.11V470.19H147.58V469.52H148.05V478.39H148.52V473.86H148.99V475.26H149.46V475.03H149.93V487.83H150.4V481.2H150.87V483.75H151.34V483.83H151.81V486.66H152.27V487.21H152.74V487.75H153.21V490.09H153.68V491.51H154.15V491.73H154.62V494.01H155.09V492.58H155.56V495.05H156.03V496.57H156.5V491.08H156.97V496.39H157.44V495.74H157.91V498.91H158.38V497.67H158.85V508.16H159.32V518.4H159.79V518.4H160.26V518.4H160.73V518.4H161.2V518.4H161.67V518.4H162.14V518.4H162.61V518.4H163.08V518.4H163.55V518.4H164.02V518.4H164.49V518.4H164.96V518.4H165.43V518.4H165.9V518.4H166.37V518.4H166.84V518.4H167.31V518.4H167.78V518.4H168.25V518.4H168.72V518.4H169.19V518.4H169.66V518.4H170.13V518.4H170.6V518.4H171.07V518.4H171.54V518.4H172.01V518.4H172.48V518.4H172.95V518.4H173.42V518.4H173.89V518.4H174.36V518.4H174.83V518.4H175.3V518.4H175.77V518.4H176.23V518.4Z" fill="#86c6d6"/>
<path d="M61.37 518.4v-2.44M63.57 518.4v-37.44M72.54 518.4v-32.34M74.54 518.4v-30.39M77.05 518.4v-25.62M79.4 518.4v-24.9M81.34 518.4v-22.71M83.37 518.4v-21.69M85.79 518.4v-23.39M87.93 518.4v-28.62M89.93 518.4v-28.17M92.25 518.4v-28.51M94.21 518.4v-24.6M96.69 518.4v-33.16M99.09 518.4v-41.74M101.64 518.4v-50.46M104.22 518.4v-42.56M106.67 518.4v-49.23M108.64 518.4v-44.5M110.77 518.4v-42.66M112.75 518.4v-44.52M115.27 518.4v-40.15M117.71 518.4v-53.49M119.88 518.4v-50.3M121.92 518.4v-51.09M123.88 518.4v-41.54M125.82 518.4v-36.82M128.21 518.4v-39.51M130.62 518.4v-36.34M132.78 518.4v-40.07M135.24 518.4v-41.95M137.7 518.4v-46.08M140.05 518.4v-45.8M142.46 518.4v-54.21M145.01 518.4v-58.64M147.18 518.4v-41.5M149.41 518.4v-41.56M151.74 518.4v-37.92M154.15 518.4v-22.25M156.19 518.4v-21.94M158.64 518.4v-23.75" stroke="#3c9dba" stroke-width="0.8" fill="none"/>
<path d="M71.23 479.02v8.37M72.73 483.62v8.15M74.23 485.69v7.06M75.53 487.76v7.71M76.87 489.19v6.61M78.1 490.29v6.12M79.32 491.03v6.06M80.89 491.95v7.14M82.42 492.51v5.62M83.96 492.11v6.42M85.6 490.93v6.46M87.29 489.93v6.42M88.63 488.72v6.87M90.32 487.02v7.61M91.78 485.56v7.45M93.32 484.1v7.63M94.8 482.23v9.05M96.5 479.47v9.33M97.75 478.06v9.04M99.13 475.89v10.17M100.48 473.73v10.64M101.79 471.08v10.14M103.5 467.23v11.24M105.2 460.62v12.43M106.51 459.33v13.03M107.98 463.33v11.83M109.23 466.8v10.43M110.93 469.77v11.46M112.65 472.41v9.75M113.85 471.66v10.29M115.44 470.51v10.7M116.64 468.84v10.2M118.21 467.29v10.15M119.86 467.08v12.06M121.18 467.89v10.03M122.91 469.12v11.22M124.34 470.97v10.27M126.03 474.91v9.25M127.23 476.38v9.48M128.58 477.7v9.36M130.29 477.13v8.83M131.6 476.53v8.33M133.25 475.69v8.55M134.96 474.21v10.09M136.65 473.22v10.5M137.93 470.88v9.69M139.65 466.58v10.76M141.27 462.82v11.26M142.61 459.33v12.95M143.92 458.11v13.35M145.59 459.03v12.3M146.94 462.63v11.01M148.35 467.26v10.18M149.85 472.7v10.35M151.34 481.2v8.52M152.86 485.42v8.28M154.33 488.53v7.59M155.7 490.53v5.76M157 492.05v6.76M158.31 492.87v6.56" stroke="#fff" stroke-width="0.5" stroke-opacity="0.55" fill="none"/>
<path d="M63.81 518.4V430.8H66.35L66.96 437.34L67.57 430.8H70.2V518.4Z" fill="#7cc3d1"/>
<path d="M65.13 518.4V430.8M68.79 518.4V430.8" stroke="#55adc4" stroke-width="0.7" fill="none"/>
<path d="M66.44 518.4V430.8" stroke="#d8eef3" stroke-width="0.5" fill="none"/>
<path d="M63.34 518.4V459.44M70.76 518.4V468.92" stroke="#8ccad8" stroke-width="0.5" fill="none"/>
<path d="M61.13 518.4V516.17H61.6V512.37H62.07V505.1H62.54V497.38H63.01V490.26H63.48V482.83H63.95V477.43H64.42V476.67H64.89V477.1H65.36V473.7H65.83V476.96H66.3V476.48H66.77V474.86H67.24V475.11H67.71V480.12H68.18V477.79H68.65V474.88H69.12V480.1H69.59V483.93H70.06V503.43H70.53V518.4Z" fill="#3496b6"/>
<path d="M158.85 518.4V469.33H159.32V474.19H159.79V473.13H160.26V473.69H160.73V475.65H161.2V474.66H161.67V478.35H162.14V477.07H162.61V472.43H163.08V474.57H163.55V468.7H164.02V465.79H164.49V460.88H164.96V462.97H165.43V467.75H165.9V464.96H166.37V470.71H166.84V474.21H167.31V482.34H167.78V489.94H168.25V493.29H168.72V497.41H169.19V500.11H169.66V504H170.13V507.21H170.6V510.31H171.07V512.71H171.54V515.24H172.01V517.32H172.48V518.4H172.95V518.4Z" fill="#3496b6"/>
<path d="M159.65 518.4V450.39M163.17 518.4V447.76M166.13 518.4V454.29M161.2 518.4V463.66M164.49 518.4V459.44" stroke="#79c0d2" stroke-width="0.6" fill="none"/>
<rect x="56.2" y="518.4" width="119.8" height="7.1" fill="url(#gr)" stroke="#666" stroke-width="0.35"/>
<rect x="56.2" y="430.8" width="119.8" height="87.6" fill="none" stroke="#808080" stroke-width="0.38"/>
<text x="54" y="519.95" font-family="Liberation Sans, Arial, Helvetica, sans-serif" font-size="3.4" text-anchor="end" fill="#5a5a5a">0</text>
<text x="54" y="509.42" font-family="Liberation Sans, Arial, Helvetica, sans-serif" font-size="3.4" text-anchor="end" fill="#5a5a5a">100</text>
<text x="54" y="498.89" font-family="Liberation Sans, Arial, Helvetica, sans-serif" font-size="3.4" text-anchor="end" fill="#5a5a5a">200</text>
<text x="54" y="488.37" font-family="Liberation Sans, Arial, Helvetica, sans-serif" font-size="3.4" text-anchor="end" fill="#5a5a5a">300</text>
<text x="54" y="477.84" font-family="Liberation Sans, Arial, Helvetica, sans-serif" font-size="3.4" text-anchor="end" fill="#5a5a5a">400</text>
<text x="54" y="467.31" font-family="Liberation Sans, Arial, Helvetica, sans-serif" font-size="3.4" text-anchor="end" fill="#5a5a5a">500</text>
<text x="54" y="456.78" font-family="Liberation Sans, Arial, Helvetica, sans-serif" font-size="3.4" text-anchor="end" fill="#5a5a5a">600</text>
<text x="54" y="446.25" font-family="Liberation Sans, Arial, Helvetica, sans-serif" font-size="3.4" text-anchor="end" fill="#5a5a5a">700</text>
<text x="54" y="435.73" font-family="Liberation Sans, Arial, Helvetica, sans-serif" font-size="3.4" text-anchor="end" fill="#5a5a5a">800</text>
<text x="56.2" y="531.4" font-family="Liberation Sans, Arial, Helvetica, sans-serif" font-size="3.4" text-anchor="middle" fill="#5a5a5a">0</text>
<text x="79.69" y="531.4" font-family="Liberation Sans, Arial, Helvetica, sans-serif" font-size="3.4" text-anchor="middle" fill="#5a5a5a">50</text>
<text x="103.18" y="531.4" font-family="Liberation Sans, Arial, Helvetica, sans-serif" font-size="3.4" text-anchor="middle" fill="#5a5a5a">100</text>
<text x="126.67" y="531.4" font-family="Liberation Sans, Arial, Helvetica, sans-serif" font-size="3.4" text-anchor="middle" fill="#5a5a5a">150</text>
<text x="150.16" y="531.4" font-family="Liberation Sans, Arial, Helvetica, sans-serif" font-size="3.4" text-anchor="middle" fill="#5a5a5a">200</text>
<text x="173.65" y="531.4" font-family="Liberation Sans, Arial, Helvetica, sans-serif" font-size="3.4" text-anchor="middle" fill="#5a5a5a">250</text>
<path d="M56.2 518.4h1.2M176 518.4h-1.2M56.2 507.87h1.2M176 507.87h-1.2M56.2 497.34h1.2M176 497.34h-1.2M56.2 486.82h1.2M176 486.82h-1.2M56.2 476.29h1.2M176 476.29h-1.2M56.2 465.76h1.2M176 465.76h-1.2M56.2 455.23h1.2M176 455.23h-1.2M56.2 444.7h1.2M176 444.7h-1.2M56.2 434.18h1.2M176 434.18h-1.2M56.2 430.8v1.2M56.2 518.4v-1.2M56.2 525.5v-1.2M79.69 430.8v1.2M79.69 518.4v-1.2M79.69 525.5v-1.2M103.18 430.8v1.2M103.18 518.4v-1.2M103.18 525.5v-1.2M126.67 430.8v1.2M126.67 518.4v-1.2M126.67 525.5v-1.2M150.16 430.8v1.2M150.16 518.4v-1.2M150.16 525.5v-1.2M173.65 430.8v1.2M173.65 518.4v-1.2M173.65 525.5v-1.2" stroke="#666" stroke-width="0.35" fill="none"/>
<rect x="197.75" y="422.25" width="154.6" height="116" rx="1.1" fill="#fff" stroke="#484848" stroke-width="1.45"/>
<path d="M217.3 518.4V481.82H217.53V483.12H218V477.97H218.47V481.91H218.94V480.54H219.41V484.28H219.88V482.22H220.35V481.79H220.82V481.44H221.29V482.03H221.76V483.13H222.23V486.77H222.7V482.82H223.17V482.9H223.64V481.7H224.11V480.27H224.58V478.13H225.05V480.13H225.52V479.62H225.99V480.74H226.46V480.78H226.93V480.6H227.4V481.59H227.87V482.15H228.34V480.96H228.81V478.56H229.28V479.92H229.75V478.32H230.22V483.86H230.69V480.98H231.16V480.71H231.63V480.64H232.1V483.97H232.57V484.22H233.04V484.88H233.51V481.87H233.98V477.11H234.45V481.18H234.92V483.32H235.39V481.02H235.86V482.02H236.33V481.13H236.8V482.32H237.27V484.1H237.74V482.03H238.21V480.35H238.68V481.4H239.15V480.19H239.62V483.4H240.09V479.73H240.56V481.28H241.03V481.04H241.49V479.73H241.96V481.74H242.43V481.71H242.9V480.63H243.37V480.43H243.84V480.58H244.31V479.69H244.78V480.89H245.25V482.49H245.72V477.55H246.19V482.47H246.66V481.31H247.13V483.99H247.6V486.3H248.07V484.23H248.54V482.85H249.01V482.39H249.48V483.08H249.95V482.17H250.42V481.43H250.89V482.1H251.36V483.97H251.83V483.84H252.3V484.4H252.77V485.7H253.24V482.5H253.71V486.56H254.18V484.58H254.65V484.02H255.12V487.78H255.59V483.64H256.06V485.19H256.53V484.68H257V485.38H257.47V486.94H257.94V484.51H258.41V484.65H258.88V483.87H259.35V484.56H259.82V488.09H260.29V483.42H260.76V484.23H261.23V484.51H261.7V484.69H262.17V486.25H262.64V485.07H263.11V486.18H263.58V480.68H264.05V485.56H264.52V486.88H264.99V486.16H265.45V482.62H265.92V485.76H266.39V488.63H266.86V483.29H267.33V484.52H267.8V485.58H268.27V484.17H268.74V486.58H269.21V487.01H269.68V483.53H270.15V485.95H270.62V484.39H271.09V485.47H271.56V484.29H272.03V484.66H272.5V487.7H272.97V483.8H273.44V485.37H273.91V483.86H274.38V484.87H274.85V482.79H275.32V485.53H275.79V487.63H276.26V485.84H276.73V484.37H277.2V485.59H277.67V485.86H278.14V482.52H278.61V485.72H279.08V483.05H279.55V484.46H280.02V487.01H280.49V485.95H280.96V484.74H281.43V484.38H281.9V485.91H282.37V486.9H282.84V486.25H283.31V485.78H283.78V486.38H284.25V485.55H284.72V482.17H285.19V484.15H285.66V485.83H286.13V484.94H286.6V482.32H287.07V483.79H287.54V484.97H288.01V486.51H288.48V487.31H288.95V485.2H289.41V485.43H289.88V487.02H290.35V487.13H290.82V484.87H291.29V487.61H291.76V486.81H292.23V484.86H292.7V484.15H293.17V484.06H293.64V483.23H294.11V482.14H294.58V483.62H295.05V484.7H295.52V480.94H295.99V482.42H296.46V483.35H296.93V485.98H297.4V483.73H297.87V488.25H298.34V484.97H298.81V488.36H299.28V485.35H299.75V482.64H300.22V484.8H300.69V482.1H301.16V484.32H301.63V483.66H302.1V484.48H302.57V483.22H303.04V483.64H303.51V481.88H303.98V481.18H304.45V482.93H304.92V485.01H305.39V481.62H305.86V481.29H306.33V481.93H306.8V482.52H307.27V481.42H307.74V480.23H308.21V486.63H308.68V479.93H309.15V481.39H309.62V481.93H310.09V483.25H310.56V482.1H311.03V481.52H311.5V484.53H311.97V481.38H312.44V482.31H312.91V479.58H313.37V481.06H313.84V482.2H314.31V482.2H314.78V480.78H315.25V481.93H315.72V480.67H316.19V482.84H316.66V483.77H317.13V482.33H317.6V484.02H318.07V483.18H318.54V480.73H319.01V484.34H319.48V483.45H319.95V480.52H320.42V482.33H320.89V482.04H321.36V484.17H321.83V483.91H322.3V482.11H322.77V479.69H323.24V481.6H323.71V484.98H324.18V481.07H324.65V480.25H325.12V480.98H325.59V483.69H326.06V481.93H326.53V478.12H327V483.2H327.47V481.58H327.94V483.12H328.41V484.08H328.88V482.55H329.35V480.25H329.82V480.09H330.29V483.22H330.76V482.71H331.23V483.19H331.7V485.31H332.17V480.95H332.64V479.08H333.11V479.15H333.58V482.27H334.05V479.48H334.52V480.07H334.99V482.29H335.46V481.73H335.93V482.83H336.4V481.64H336.87V478.31H337.33V518.4Z" fill="#51a9dc"/>
<path d="M217.3 518.4V481.82H217.53V483.12H218V477.97H218.47V481.91H218.94V480.54H219.41V484.28H219.88V482.22H220.35V481.79H220.82V481.44H221.29V482.03H221.76V483.13H222.23V486.77H222.7V482.82H223.17V482.9H223.64V481.7H224.11V480.27H224.58V478.13H225.05V480.13H225.52V479.62H225.99V480.74H226.46V480.78H226.93V480.6H227.4V481.59H227.87V482.15H228.34V480.96H228.81V478.56H229.28V479.92H229.75V478.32H230.22V483.86H230.69V480.98H231.16V480.71H231.63V480.64H232.1V483.97H232.57V484.22H233.04V484.88H233.51V481.87H233.98V477.11H234.45V481.18H234.92V483.32H235.39V481.02H235.86V482.02H236.33V481.13H236.8V482.32H237.27V484.1H237.74V482.03H238.21V480.35H238.68V481.4H239.15V480.19H239.62V483.4H240.09V479.73H240.56V481.28H241.03V481.04H241.49V479.73H241.96V481.74H242.43V481.71H242.9V480.63H243.37V480.43H243.84V480.58H244.31V479.69H244.78V480.89H245.25V482.49H245.72V477.55H246.19V482.47H246.66V481.31H247.13V483.99H247.6V486.3H248.07V484.23H248.54V482.85H249.01V482.39H249.48V483.08H249.95V482.17H250.42V481.43H250.89V482.1H251.36V483.97H251.83V483.84H252.3V484.4H252.77V485.7H253.24V482.5H253.71V486.56H254.18V484.58H254.65V484.02H255.12V487.78H255.59V483.64H256.06V485.19H256.53V484.68H257V485.38H257.47V486.94H257.94V484.51H258.41V484.65H258.88V483.87H259.35V484.56H259.82V488.09H260.29V483.42H260.76V484.23H261.23V484.51H261.7V484.69H262.17V486.25H262.64V485.07H263.11V486.18H263.58V480.68H264.05V485.56H264.52V486.88H264.99V486.16H265.45V482.62H265.92V485.76H266.39V488.63H266.86V483.29H267.33V484.52H267.8V485.58H268.27V484.17H268.74V486.58H269.21V487.01H269.68V483.53H270.15V485.95H270.62V484.39H271.09V485.47H271.56V484.29H272.03V484.66H272.5V487.7H272.97V483.8H273.44V485.37H273.91V483.86H274.38V484.87H274.85V482.79H275.32V485.53H275.79V487.63H276.26V485.84H276.73V484.37H277.2V485.59H277.67V485.86H278.14V482.52H278.61V485.72H279.08V483.05H279.55V484.46H280.02V487.01H280.49V485.95H280.96V484.74H281.43V484.38H281.9V485.91H282.37V486.9H282.84V486.25H283.31V485.78H283.78V486.38H284.25V485.55H284.72V482.17H285.19V484.15H285.66V485.83H286.13V484.94H286.6V482.32H287.07V483.79H287.54V484.97H288.01V486.51H288.48V487.31H288.95V485.2H289.41V485.43H289.88V487.02H290.35V487.13H290.82V484.87H291.29V487.61H291.76V486.81H292.23V484.86H292.7V484.15H293.17V484.06H293.64V483.23H294.11V482.14H294.58V483.62H295.05V484.7H295.52V480.94H295.99V482.42H296.46V483.35H296.93V485.98H297.4V483.73H297.87V488.25H298.34V484.97H298.81V488.36H299.28V485.35H299.75V482.64H300.22V484.8H300.69V482.1H301.16V484.32H301.63V483.66H302.1V484.48H302.57V483.22H303.04V483.64H303.51V481.88H303.98V481.18H304.45V482.93H304.92V485.01H305.39V481.62H305.86V481.29H306.33V481.93H306.8V482.52H307.27V481.42H307.74V480.23H308.21V486.63H308.68V479.93H309.15V481.39H309.62V481.93H310.09V483.25H310.56V482.1H311.03V481.52H311.5V484.53H311.97V481.38H312.44V482.31H312.91V479.58H313.37V481.06H313.84V482.2H314.31V482.2H314.78V480.78H315.25V481.93H315.72V480.67H316.19V482.84H316.66V483.77H317.13V482.33H317.6V484.02H318.07V483.18H318.54V480.73H319.01V484.34H319.48V483.45H319.95V480.52H320.42V482.33H320.89V482.04H321.36V484.17H321.83V483.91H322.3V482.11H322.77V479.69H323.24V481.6H323.71V484.98H324.18V481.07H324.65V480.25H325.12V480.98H325.59V483.69H326.06V481.93H326.53V478.12H327V483.2H327.47V481.58H327.94V483.12H328.41V484.08H328.88V482.55H329.35V480.25H329.82V480.09H330.29V483.22H330.76V482.71H331.23V483.19H331.7V485.31H332.17V480.95H332.64V479.08H333.11V479.15H333.58V482.27H334.05V479.48H334.52V480.07H334.99V482.29H335.46V481.73H335.93V482.83H336.4V481.64H336.87V478.31H337.33V518.4Z" fill="url(#sb)"/>
<rect x="336.75" y="449.55" width="0.7" height="68.85" fill="#a9d4ef"/>
<rect x="217.3" y="518.4" width="120.1" height="7.1" fill="url(#gr)" stroke="#666" stroke-width="0.35"/>
<rect x="217.3" y="430.8" width="120.1" height="87.6" fill="none" stroke="#808080" stroke-width="0.38"/>
<text x="215.1" y="519.95" font-family="Liberation Sans, Arial, Helvetica, sans-serif" font-size="3.4" text-anchor="end" fill="#5a5a5a">0</text>
<text x="215.1" y="506.32" font-family="Liberation Sans, Arial, Helvetica, sans-serif" font-size="3.4" text-anchor="end" fill="#5a5a5a">100</text>
<text x="215.1" y="492.68" font-family="Liberation Sans, Arial, Helvetica, sans-serif" font-size="3.4" text-anchor="end" fill="#5a5a5a">200</text>
<text x="215.1" y="479.05" font-family="Liberation Sans, Arial, Helvetica, sans-serif" font-size="3.4" text-anchor="end" fill="#5a5a5a">300</text>
<text x="215.1" y="465.42" font-family="Liberation Sans, Arial, Helvetica, sans-serif" font-size="3.4" text-anchor="end" fill="#5a5a5a">400</text>
<text x="215.1" y="451.78" font-family="Liberation Sans, Arial, Helvetica, sans-serif" font-size="3.4" text-anchor="end" fill="#5a5a5a">500</text>
<text x="215.1" y="438.15" font-family="Liberation Sans, Arial, Helvetica, sans-serif" font-size="3.4" text-anchor="end" fill="#5a5a5a">600</text>
<text x="217.3" y="531.4" font-family="Liberation Sans, Arial, Helvetica, sans-serif" font-size="3.4" text-anchor="middle" fill="#5a5a5a">0</text>
<text x="240.79" y="531.4" font-family="Liberation Sans, Arial, Helvetica, sans-serif" font-size="3.4" text-anchor="middle" fill="#5a5a5a">50</text>
<text x="264.28" y="531.4" font-family="Liberation Sans, Arial, Helvetica, sans-serif" font-size="3.4" text-anchor="middle" fill="#5a5a5a">100</text>
<text x="287.77" y="531.4" font-family="Liberation Sans, Arial, Helvetica, sans-serif" font-size="3.4" text-anchor="middle" fill="#5a5a5a">150</text>
<text x="311.26" y="531.4" font-family="Liberation Sans, Arial, Helvetica, sans-serif" font-size="3.4" text-anchor="middle" fill="#5a5a5a">200</text>
<text x="334.75" y="531.4" font-family="Liberation Sans, Arial, Helvetica, sans-serif" font-size="3.4" text-anchor="middle" fill="#5a5a5a">250</text>
<path d="M217.3 518.4h1.2M337.4 518.4h-1.2M217.3 504.77h1.2M337.4 504.77h-1.2M217.3 491.13h1.2M337.4 491.13h-1.2M217.3 477.5h1.2M337.4 477.5h-1.2M217.3 463.87h1.2M337.4 463.87h-1.2M217.3 450.23h1.2M337.4 450.23h-1.2M217.3 436.6h1.2M337.4 436.6h-1.2M217.3 430.8v1.2M217.3 518.4v-1.2M217.3 525.5v-1.2M240.79 430.8v1.2M240.79 518.4v-1.2M240.79 525.5v-1.2M264.28 430.8v1.2M264.28 518.4v-1.2M264.28 525.5v-1.2M287.77 430.8v1.2M287.77 518.4v-1.2M287.77 525.5v-1.2M311.26 430.8v1.2M311.26 518.4v-1.2M311.26 525.5v-1.2M334.75 430.8v1.2M334.75 518.4v-1.2M334.75 525.5v-1.2" stroke="#666" stroke-width="0.35" fill="none"/>
<rect x="358.75" y="422.25" width="154.6" height="116" rx="1.1" fill="#fff" stroke="#484848" stroke-width="1.45"/>
<path d="M378.9 518.4V518.4H379.13V518.4H379.6V518.4H380.07V518.4H380.54V518.4H381.01V518.4H381.48V518.4H381.95V518.4H382.42V518.4H382.89V518.4H383.36V518.4H383.83V516.34H384.3V512.06H384.77V504.01H385.24V497.75H385.71V488.74H386.18V482.27H386.65V476.27H387.12V473.18H387.59V484.01H388.06V474.21H388.53V478.4H389V484.09H389.47V475.63H389.94V477.31H390.41V474.38H390.88V481.06H391.35V469.98H391.82V477.14H392.29V479.7H392.76V476.34H393.23V478.96H393.7V481.82H394.17V481.59H394.64V492.48H395.11V484.78H395.58V489.44H396.05V488.45H396.52V486.99H396.99V490.75H397.46V491.21H397.93V489.19H398.4V492.73H398.87V489.58H399.34V495.04H399.81V494.72H400.28V495.22H400.75V492.73H401.22V487.2H401.69V494.15H402.16V493.97H402.63V494.39H403.09V492.41H403.56V493.71H404.03V496.32H404.5V494.15H404.97V492.37H405.44V494.79H405.91V498.86H406.38V496.72H406.85V492.68H407.32V498.15H407.79V494.93H408.26V494.52H408.73V494.24H409.2V493.44H409.67V492.7H410.14V491H410.61V492.15H411.08V492.51H411.55V485.63H412.02V488.32H412.49V488.51H412.96V489.8H413.43V492.08H413.9V488.48H414.37V488.37H414.84V487.17H415.31V488.56H415.78V491.45H416.25V488.84H416.72V486.56H417.19V481.11H417.66V483.48H418.13V486.78H418.6V486.25H419.07V483.97H419.54V481.57H420.01V485.31H420.48V487.58H420.95V480.13H421.42V479.63H421.89V479.19H422.36V477.66H422.83V473.06H423.3V479.25H423.77V477.73H424.24V472.94H424.71V480.56H425.18V471.94H425.65V475.89H426.12V475.59H426.59V471.41H427.05V462.74H427.52V470.76H427.99V461.02H428.46V463.89H428.93V470.44H429.4V464.18H429.87V470.68H430.34V474.53H430.81V472.55H431.28V474.42H431.75V471.86H432.22V475.97H432.69V470.15H433.16V475.64H433.63V478.37H434.1V480.1H434.57V476.05H435.04V483.55H435.51V483.46H435.98V477.33H436.45V474.76H436.92V475.67H437.39V475.61H437.86V476.46H438.33V482.3H438.8V474.97H439.27V478.85H439.74V473.56H440.21V473.44H440.68V473.4H441.15V471.57H441.62V469.83H442.09V471.99H442.56V470.8H443.03V475.34H443.5V477.92H443.97V472.04H444.44V470.08H444.91V471.22H445.38V476.05H445.85V473.58H446.32V475.89H446.79V474.49H447.26V479.8H447.73V478.63H448.2V471.31H448.67V478.08H449.14V477.02H449.61V482.55H450.08V484.02H450.55V482.66H451.01V479.96H451.48V481.69H451.95V479.44H452.42V482.03H452.89V478.23H453.36V479.13H453.83V484.17H454.3V479.82H454.77V481.05H455.24V477.74H455.71V482.42H456.18V479H456.65V478.62H457.12V487.34H457.59V484.32H458.06V477.5H458.53V478.54H459V474.19H459.47V475.87H459.94V480.66H460.41V475.57H460.88V478.08H461.35V474.73H461.82V474.11H462.29V469.74H462.76V476.98H463.23V473.1H463.7V475.67H464.17V457.91H464.64V469.84H465.11V468.94H465.58V470.68H466.05V467.55H466.52V467.21H466.99V463.35H467.46V465.08H467.93V465.53H468.4V468.18H468.87V467.23H469.34V463.78H469.81V470.19H470.28V469.52H470.75V478.39H471.22V473.86H471.69V475.26H472.16V475.03H472.63V487.83H473.1V481.2H473.57V483.75H474.04V483.83H474.51V486.66H474.97V487.21H475.44V487.75H475.91V490.09H476.38V491.51H476.85V491.73H477.32V494.01H477.79V492.58H478.26V495.05H478.73V496.57H479.2V491.08H479.67V496.39H480.14V495.74H480.61V498.91H481.08V497.67H481.55V508.16H482.02V518.4H482.49V518.4H482.96V518.4H483.43V518.4H483.9V518.4H484.37V518.4H484.84V518.4H485.31V518.4H485.78V518.4H486.25V518.4H486.72V518.4H487.19V518.4H487.66V518.4H488.13V518.4H488.6V518.4H489.07V518.4H489.54V518.4H490.01V518.4H490.48V518.4H490.95V518.4H491.42V518.4H491.89V518.4H492.36V518.4H492.83V518.4H493.3V518.4H493.77V518.4H494.24V518.4H494.71V518.4H495.18V518.4H495.65V518.4H496.12V518.4H496.59V518.4H497.06V518.4H497.53V518.4H498V518.4H498.47V518.4H498.93V518.4Z" fill="#86c6d6"/>
<path d="M384.07 518.4v-2.44M386.27 518.4v-37.44M395.24 518.4v-32.34M397.24 518.4v-30.39M399.75 518.4v-25.62M402.1 518.4v-24.9M404.04 518.4v-22.71M406.07 518.4v-21.69M408.49 518.4v-23.39M410.63 518.4v-28.62M412.63 518.4v-28.17M414.95 518.4v-28.51M416.91 518.4v-24.6M419.39 518.4v-33.16M421.79 518.4v-41.74M424.34 518.4v-50.46M426.92 518.4v-42.56M429.37 518.4v-49.23M431.34 518.4v-44.5M433.47 518.4v-42.66M435.45 518.4v-44.52M437.97 518.4v-40.15M440.41 518.4v-53.49M442.58 518.4v-50.3M444.62 518.4v-51.09M446.58 518.4v-41.54M448.52 518.4v-36.82M450.91 518.4v-39.51M453.32 518.4v-36.34M455.48 518.4v-40.07M457.94 518.4v-41.95M460.4 518.4v-46.08M462.75 518.4v-45.8M465.16 518.4v-54.21M467.71 518.4v-58.64M469.88 518.4v-41.5M472.11 518.4v-41.56M474.44 518.4v-37.92M476.85 518.4v-22.25M478.89 518.4v-21.94M481.34 518.4v-23.75" stroke="#3c9dba" stroke-width="0.8" fill="none"/>
<path d="M393.93 479.02v8.37M395.43 483.62v8.15M396.93 485.69v7.06M398.23 487.76v7.71M399.57 489.19v6.61M400.8 490.29v6.12M402.02 491.03v6.06M403.59 491.95v7.14M405.12 492.51v5.62M406.66 492.11v6.42M408.3 490.93v6.46M409.99 489.93v6.42M411.33 488.72v6.87M413.02 487.02v7.61M414.48 485.56v7.45M416.02 484.1v7.63M417.5 482.23v9.05M419.2 479.47v9.33M420.45 478.06v9.04M421.83 475.89v10.17M423.18 473.73v10.64M424.49 471.08v10.14M426.2 467.23v11.24M427.9 460.62v12.43M429.21 459.33v13.03M430.68 463.33v11.83M431.93 466.8v10.43M433.63 469.77v11.46M435.35 472.41v9.75M436.55 471.66v10.29M438.14 470.51v10.7M439.34 468.84v10.2M440.91 467.29v10.15M442.56 467.08v12.06M443.88 467.89v10.03M445.61 469.12v11.22M447.04 470.97v10.27M448.73 474.91v9.25M449.93 476.38v9.48M451.28 477.7v9.36M452.99 477.13v8.83M454.3 476.53v8.33M455.95 475.69v8.55M457.66 474.21v10.09M459.35 473.22v10.5M460.63 470.88v9.69M462.35 466.58v10.76M463.97 462.82v11.26M465.31 459.33v12.95M466.62 458.11v13.35M468.29 459.03v12.3M469.64 462.63v11.01M471.05 467.26v10.18M472.55 472.7v10.35M474.04 481.2v8.52M475.56 485.42v8.28M477.03 488.53v7.59M478.4 490.53v5.76M479.7 492.05v6.76M481.01 492.87v6.56" stroke="#fff" stroke-width="0.5" stroke-opacity="0.55" fill="none"/>
<path d="M386.51 518.4V430.8H389.05L389.66 437.34L390.27 430.8H392.9V518.4Z" fill="#7cc3d1"/>
<path d="M387.83 518.4V430.8M391.49 518.4V430.8" stroke="#55adc4" stroke-width="0.7" fill="none"/>
<path d="M389.14 518.4V430.8" stroke="#d8eef3" stroke-width="0.5" fill="none"/>
<path d="M386.04 518.4V459.44M393.46 518.4V468.92" stroke="#8ccad8" stroke-width="0.5" fill="none"/>
<path d="M383.83 518.4V516.17H384.3V512.37H384.77V505.1H385.24V497.38H385.71V490.26H386.18V482.83H386.65V477.43H387.12V476.67H387.59V477.1H388.06V473.7H388.53V476.96H389V476.48H389.47V474.86H389.94V475.11H390.41V480.12H390.88V477.79H391.35V474.88H391.82V480.1H392.29V483.93H392.76V503.43H393.23V518.4Z" fill="#3496b6"/>
<path d="M481.55 518.4V469.33H482.02V474.19H482.49V473.13H482.96V473.69H483.43V475.65H483.9V474.66H484.37V478.35H484.84V477.07H485.31V472.43H485.78V474.57H486.25V468.7H486.72V465.79H487.19V460.88H487.66V462.97H488.13V467.75H488.6V464.96H489.07V470.71H489.54V474.21H490.01V482.34H490.48V489.94H490.95V493.29H491.42V497.41H491.89V500.11H492.36V504H492.83V507.21H493.3V510.31H493.77V512.71H494.24V515.24H494.71V517.32H495.18V518.4H495.65V518.4Z" fill="#3496b6"/>
<path d="M482.35 518.4V450.39M485.87 518.4V447.76M488.83 518.4V454.29M483.9 518.4V463.66M487.19 518.4V459.44" stroke="#79c0d2" stroke-width="0.6" fill="none"/>
<rect x="378.9" y="518.4" width="119.8" height="7.1" fill="url(#gr)" stroke="#666" stroke-width="0.35"/>
<rect x="378.9" y="430.8" width="119.8" height="87.6" fill="none" stroke="#808080" stroke-width="0.38"/>
<text x="376.7" y="519.95" font-family="Liberation Sans, Arial, Helvetica, sans-serif" font-size="3.4" text-anchor="end" fill="#5a5a5a">0</text>
<text x="376.7" y="509.42" font-family="Liberation Sans, Arial, Helvetica, sans-serif" font-size="3.4" text-anchor="end" fill="#5a5a5a">100</text>
<text x="376.7" y="498.89" font-family="Liberation Sans, Arial, Helvetica, sans-serif" font-size="3.4" text-anchor="end" fill="#5a5a5a">200</text>
<text x="376.7" y="488.37" font-family="Liberation Sans, Arial, Helvetica, sans-serif" font-size="3.4" text-anchor="end" fill="#5a5a5a">300</text>
<text x="376.7" y="477.84" font-family="Liberation Sans, Arial, Helvetica, sans-serif" font-size="3.4" text-anchor="end" fill="#5a5a5a">400</text>
<text x="376.7" y="467.31" font-family="Liberation Sans, Arial, Helvetica, sans-serif" font-size="3.4" text-anchor="end" fill="#5a5a5a">500</text>
<text x="376.7" y="456.78" font-family="Liberation Sans, Arial, Helvetica, sans-serif" font-size="3.4" text-anchor="end" fill="#5a5a5a">600</text>
<text x="376.7" y="446.25" font-family="Liberation Sans, Arial, Helvetica, sans-serif" font-size="3.4" text-anchor="end" fill="#5a5a5a">700</text>
<text x="376.7" y="435.73" font-family="Liberation Sans, Arial, Helvetica, sans-serif" font-size="3.4" text-anchor="end" fill="#5a5a5a">800</text>
<text x="378.9" y="531.4" font-family="Liberation Sans, Arial, Helvetica, sans-serif" font-size="3.4" text-anchor="middle" fill="#5a5a5a">0</text>
<text x="402.39" y="531.4" font-family="Liberation Sans, Arial, Helvetica, sans-serif" font-size="3.4" text-anchor="middle" fill="#5a5a5a">50</text>
<text x="425.88" y="531.4" font-family="Liberation Sans, Arial, Helvetica, sans-serif" font-size="3.4" text-anchor="middle" fill="#5a5a5a">100</text>
<text x="449.37" y="531.4" font-family="Liberation Sans, Arial, Helvetica, sans-serif" font-size="3.4" text-anchor="middle" fill="#5a5a5a">150</text>
<text x="472.86" y="531.4" font-family="Liberation Sans, Arial, Helvetica, sans-serif" font-size="3.4" text-anchor="middle" fill="#5a5a5a">200</text>
<text x="496.35" y="531.4" font-family="Liberation Sans, Arial, Helvetica, sans-serif" font-size="3.4" text-anchor="middle" fill="#5a5a5a">250</text>
<path d="M378.9 518.4h1.2M498.7 518.4h-1.2M378.9 507.87h1.2M498.7 507.87h-1.2M378.9 497.34h1.2M498.7 497.34h-1.2M378.9 486.82h1.2M498.7 486.82h-1.2M378.9 476.29h1.2M498.7 476.29h-1.2M378.9 465.76h1.2M498.7 465.76h-1.2M378.9 455.23h1.2M498.7 455.23h-1.2M378.9 444.7h1.2M498.7 444.7h-1.2M378.9 434.18h1.2M498.7 434.18h-1.2M378.9 430.8v1.2M378.9 518.4v-1.2M378.9 525.5v-1.2M402.39 430.8v1.2M402.39 518.4v-1.2M402.39 525.5v-1.2M425.88 430.8v1.2M425.88 518.4v-1.2M425.88 525.5v-1.2M449.37 430.8v1.2M449.37 518.4v-1.2M449.37 525.5v-1.2M472.86 430.8v1.2M472.86 518.4v-1.2M472.86 525.5v-1.2M496.35 430.8v1.2M496.35 518.4v-1.2M496.35 525.5v-1.2" stroke="#666" stroke-width="0.35" fill="none"/>
</svg>
</body></html>
